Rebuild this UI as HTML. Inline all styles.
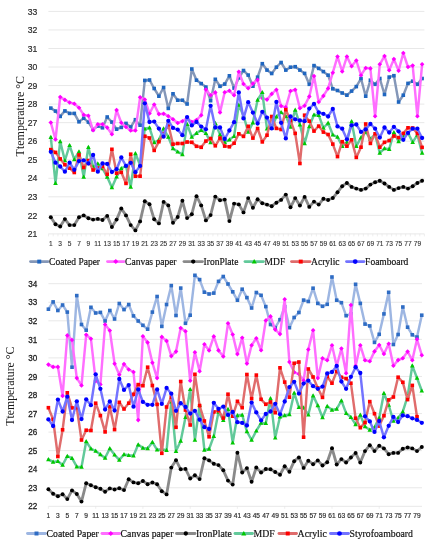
<!DOCTYPE html>
<html><head><meta charset="utf-8"><title>Temperature charts</title>
<style>html,body{margin:0;padding:0;background:#fff;overflow:hidden;} svg{display:block;}</style></head>
<body><svg width="433" height="550" viewBox="0 0 433 550">
<rect width="433" height="550" fill="#fff"/>
<text transform="translate(20.3,116.2) rotate(-90)" text-anchor="middle" dominant-baseline="central" font-family="Liberation Serif, serif" font-size="12" fill="#1A1A1A">Ttemperature °C</text><text transform="translate(10.2,386.2) rotate(-90)" text-anchor="middle" dominant-baseline="central" font-family="Liberation Serif, serif" font-size="11.8" fill="#1A1A1A">Ttemperature °C</text>
<line x1="48.4" y1="215.36" x2="424.4" y2="215.36" stroke="#E8E8E8" stroke-width="1"/>
<line x1="48.4" y1="196.82" x2="424.4" y2="196.82" stroke="#E8E8E8" stroke-width="1"/>
<line x1="48.4" y1="178.28" x2="424.4" y2="178.28" stroke="#E8E8E8" stroke-width="1"/>
<line x1="48.4" y1="159.74" x2="424.4" y2="159.74" stroke="#E8E8E8" stroke-width="1"/>
<line x1="48.4" y1="141.20" x2="424.4" y2="141.20" stroke="#E8E8E8" stroke-width="1"/>
<line x1="48.4" y1="122.66" x2="424.4" y2="122.66" stroke="#E8E8E8" stroke-width="1"/>
<line x1="48.4" y1="104.12" x2="424.4" y2="104.12" stroke="#E8E8E8" stroke-width="1"/>
<line x1="48.4" y1="85.58" x2="424.4" y2="85.58" stroke="#E8E8E8" stroke-width="1"/>
<line x1="48.4" y1="67.04" x2="424.4" y2="67.04" stroke="#E8E8E8" stroke-width="1"/>
<line x1="48.4" y1="48.50" x2="424.4" y2="48.50" stroke="#E8E8E8" stroke-width="1"/>
<line x1="48.4" y1="29.96" x2="424.4" y2="29.96" stroke="#E8E8E8" stroke-width="1"/>
<line x1="48.4" y1="11.42" x2="424.4" y2="11.42" stroke="#E8E8E8" stroke-width="1"/>
<line x1="48.4" y1="233.90" x2="424.4" y2="233.90" stroke="#E8E8E8" stroke-width="1"/>
<line x1="48.5" y1="233.9" x2="48.5" y2="236.4" stroke="#E6E6E6" stroke-width="0.7"/>
<line x1="53.2" y1="233.9" x2="53.2" y2="236.4" stroke="#E6E6E6" stroke-width="0.7"/>
<line x1="57.9" y1="233.9" x2="57.9" y2="236.4" stroke="#E6E6E6" stroke-width="0.7"/>
<line x1="62.6" y1="233.9" x2="62.6" y2="236.4" stroke="#E6E6E6" stroke-width="0.7"/>
<line x1="67.2" y1="233.9" x2="67.2" y2="236.4" stroke="#E6E6E6" stroke-width="0.7"/>
<line x1="72.0" y1="233.9" x2="72.0" y2="236.4" stroke="#E6E6E6" stroke-width="0.7"/>
<line x1="76.7" y1="233.9" x2="76.7" y2="236.4" stroke="#E6E6E6" stroke-width="0.7"/>
<line x1="81.3" y1="233.9" x2="81.3" y2="236.4" stroke="#E6E6E6" stroke-width="0.7"/>
<line x1="86.1" y1="233.9" x2="86.1" y2="236.4" stroke="#E6E6E6" stroke-width="0.7"/>
<line x1="90.8" y1="233.9" x2="90.8" y2="236.4" stroke="#E6E6E6" stroke-width="0.7"/>
<line x1="95.5" y1="233.9" x2="95.5" y2="236.4" stroke="#E6E6E6" stroke-width="0.7"/>
<line x1="100.2" y1="233.9" x2="100.2" y2="236.4" stroke="#E6E6E6" stroke-width="0.7"/>
<line x1="104.9" y1="233.9" x2="104.9" y2="236.4" stroke="#E6E6E6" stroke-width="0.7"/>
<line x1="109.6" y1="233.9" x2="109.6" y2="236.4" stroke="#E6E6E6" stroke-width="0.7"/>
<line x1="114.2" y1="233.9" x2="114.2" y2="236.4" stroke="#E6E6E6" stroke-width="0.7"/>
<line x1="119.0" y1="233.9" x2="119.0" y2="236.4" stroke="#E6E6E6" stroke-width="0.7"/>
<line x1="123.7" y1="233.9" x2="123.7" y2="236.4" stroke="#E6E6E6" stroke-width="0.7"/>
<line x1="128.4" y1="233.9" x2="128.4" y2="236.4" stroke="#E6E6E6" stroke-width="0.7"/>
<line x1="133.1" y1="233.9" x2="133.1" y2="236.4" stroke="#E6E6E6" stroke-width="0.7"/>
<line x1="137.8" y1="233.9" x2="137.8" y2="236.4" stroke="#E6E6E6" stroke-width="0.7"/>
<line x1="142.4" y1="233.9" x2="142.4" y2="236.4" stroke="#E6E6E6" stroke-width="0.7"/>
<line x1="147.2" y1="233.9" x2="147.2" y2="236.4" stroke="#E6E6E6" stroke-width="0.7"/>
<line x1="151.9" y1="233.9" x2="151.9" y2="236.4" stroke="#E6E6E6" stroke-width="0.7"/>
<line x1="156.6" y1="233.9" x2="156.6" y2="236.4" stroke="#E6E6E6" stroke-width="0.7"/>
<line x1="161.2" y1="233.9" x2="161.2" y2="236.4" stroke="#E6E6E6" stroke-width="0.7"/>
<line x1="165.9" y1="233.9" x2="165.9" y2="236.4" stroke="#E6E6E6" stroke-width="0.7"/>
<line x1="170.7" y1="233.9" x2="170.7" y2="236.4" stroke="#E6E6E6" stroke-width="0.7"/>
<line x1="175.4" y1="233.9" x2="175.4" y2="236.4" stroke="#E6E6E6" stroke-width="0.7"/>
<line x1="180.1" y1="233.9" x2="180.1" y2="236.4" stroke="#E6E6E6" stroke-width="0.7"/>
<line x1="184.8" y1="233.9" x2="184.8" y2="236.4" stroke="#E6E6E6" stroke-width="0.7"/>
<line x1="189.4" y1="233.9" x2="189.4" y2="236.4" stroke="#E6E6E6" stroke-width="0.7"/>
<line x1="194.2" y1="233.9" x2="194.2" y2="236.4" stroke="#E6E6E6" stroke-width="0.7"/>
<line x1="198.9" y1="233.9" x2="198.9" y2="236.4" stroke="#E6E6E6" stroke-width="0.7"/>
<line x1="203.6" y1="233.9" x2="203.6" y2="236.4" stroke="#E6E6E6" stroke-width="0.7"/>
<line x1="208.2" y1="233.9" x2="208.2" y2="236.4" stroke="#E6E6E6" stroke-width="0.7"/>
<line x1="212.9" y1="233.9" x2="212.9" y2="236.4" stroke="#E6E6E6" stroke-width="0.7"/>
<line x1="217.7" y1="233.9" x2="217.7" y2="236.4" stroke="#E6E6E6" stroke-width="0.7"/>
<line x1="222.4" y1="233.9" x2="222.4" y2="236.4" stroke="#E6E6E6" stroke-width="0.7"/>
<line x1="227.1" y1="233.9" x2="227.1" y2="236.4" stroke="#E6E6E6" stroke-width="0.7"/>
<line x1="231.8" y1="233.9" x2="231.8" y2="236.4" stroke="#E6E6E6" stroke-width="0.7"/>
<line x1="236.4" y1="233.9" x2="236.4" y2="236.4" stroke="#E6E6E6" stroke-width="0.7"/>
<line x1="241.2" y1="233.9" x2="241.2" y2="236.4" stroke="#E6E6E6" stroke-width="0.7"/>
<line x1="245.9" y1="233.9" x2="245.9" y2="236.4" stroke="#E6E6E6" stroke-width="0.7"/>
<line x1="250.6" y1="233.9" x2="250.6" y2="236.4" stroke="#E6E6E6" stroke-width="0.7"/>
<line x1="255.2" y1="233.9" x2="255.2" y2="236.4" stroke="#E6E6E6" stroke-width="0.7"/>
<line x1="259.9" y1="233.9" x2="259.9" y2="236.4" stroke="#E6E6E6" stroke-width="0.7"/>
<line x1="264.7" y1="233.9" x2="264.7" y2="236.4" stroke="#E6E6E6" stroke-width="0.7"/>
<line x1="269.4" y1="233.9" x2="269.4" y2="236.4" stroke="#E6E6E6" stroke-width="0.7"/>
<line x1="274.1" y1="233.9" x2="274.1" y2="236.4" stroke="#E6E6E6" stroke-width="0.7"/>
<line x1="278.8" y1="233.9" x2="278.8" y2="236.4" stroke="#E6E6E6" stroke-width="0.7"/>
<line x1="283.4" y1="233.9" x2="283.4" y2="236.4" stroke="#E6E6E6" stroke-width="0.7"/>
<line x1="288.2" y1="233.9" x2="288.2" y2="236.4" stroke="#E6E6E6" stroke-width="0.7"/>
<line x1="292.9" y1="233.9" x2="292.9" y2="236.4" stroke="#E6E6E6" stroke-width="0.7"/>
<line x1="297.6" y1="233.9" x2="297.6" y2="236.4" stroke="#E6E6E6" stroke-width="0.7"/>
<line x1="302.2" y1="233.9" x2="302.2" y2="236.4" stroke="#E6E6E6" stroke-width="0.7"/>
<line x1="306.9" y1="233.9" x2="306.9" y2="236.4" stroke="#E6E6E6" stroke-width="0.7"/>
<line x1="311.6" y1="233.9" x2="311.6" y2="236.4" stroke="#E6E6E6" stroke-width="0.7"/>
<line x1="316.4" y1="233.9" x2="316.4" y2="236.4" stroke="#E6E6E6" stroke-width="0.7"/>
<line x1="321.1" y1="233.9" x2="321.1" y2="236.4" stroke="#E6E6E6" stroke-width="0.7"/>
<line x1="325.8" y1="233.9" x2="325.8" y2="236.4" stroke="#E6E6E6" stroke-width="0.7"/>
<line x1="330.4" y1="233.9" x2="330.4" y2="236.4" stroke="#E6E6E6" stroke-width="0.7"/>
<line x1="335.1" y1="233.9" x2="335.1" y2="236.4" stroke="#E6E6E6" stroke-width="0.7"/>
<line x1="339.9" y1="233.9" x2="339.9" y2="236.4" stroke="#E6E6E6" stroke-width="0.7"/>
<line x1="344.6" y1="233.9" x2="344.6" y2="236.4" stroke="#E6E6E6" stroke-width="0.7"/>
<line x1="349.2" y1="233.9" x2="349.2" y2="236.4" stroke="#E6E6E6" stroke-width="0.7"/>
<line x1="353.9" y1="233.9" x2="353.9" y2="236.4" stroke="#E6E6E6" stroke-width="0.7"/>
<line x1="358.6" y1="233.9" x2="358.6" y2="236.4" stroke="#E6E6E6" stroke-width="0.7"/>
<line x1="363.4" y1="233.9" x2="363.4" y2="236.4" stroke="#E6E6E6" stroke-width="0.7"/>
<line x1="368.1" y1="233.9" x2="368.1" y2="236.4" stroke="#E6E6E6" stroke-width="0.7"/>
<line x1="372.8" y1="233.9" x2="372.8" y2="236.4" stroke="#E6E6E6" stroke-width="0.7"/>
<line x1="377.4" y1="233.9" x2="377.4" y2="236.4" stroke="#E6E6E6" stroke-width="0.7"/>
<line x1="382.1" y1="233.9" x2="382.1" y2="236.4" stroke="#E6E6E6" stroke-width="0.7"/>
<line x1="386.9" y1="233.9" x2="386.9" y2="236.4" stroke="#E6E6E6" stroke-width="0.7"/>
<line x1="391.6" y1="233.9" x2="391.6" y2="236.4" stroke="#E6E6E6" stroke-width="0.7"/>
<line x1="396.2" y1="233.9" x2="396.2" y2="236.4" stroke="#E6E6E6" stroke-width="0.7"/>
<line x1="400.9" y1="233.9" x2="400.9" y2="236.4" stroke="#E6E6E6" stroke-width="0.7"/>
<line x1="405.6" y1="233.9" x2="405.6" y2="236.4" stroke="#E6E6E6" stroke-width="0.7"/>
<line x1="410.4" y1="233.9" x2="410.4" y2="236.4" stroke="#E6E6E6" stroke-width="0.7"/>
<line x1="415.1" y1="233.9" x2="415.1" y2="236.4" stroke="#E6E6E6" stroke-width="0.7"/>
<line x1="419.8" y1="233.9" x2="419.8" y2="236.4" stroke="#E6E6E6" stroke-width="0.7"/>
<line x1="424.4" y1="233.9" x2="424.4" y2="236.4" stroke="#E6E6E6" stroke-width="0.7"/>
<text transform="translate(37.4,233.90) scale(0.9,1)" text-anchor="end" dominant-baseline="central" font-family="Liberation Sans, sans-serif" font-size="9.6" font-weight="normal" fill="#2A2A2A" stroke="#2A2A2A" stroke-width="0.2">21</text>
<text transform="translate(37.4,215.36) scale(0.9,1)" text-anchor="end" dominant-baseline="central" font-family="Liberation Sans, sans-serif" font-size="9.6" font-weight="normal" fill="#2A2A2A" stroke="#2A2A2A" stroke-width="0.2">22</text>
<text transform="translate(37.4,196.82) scale(0.9,1)" text-anchor="end" dominant-baseline="central" font-family="Liberation Sans, sans-serif" font-size="9.6" font-weight="normal" fill="#2A2A2A" stroke="#2A2A2A" stroke-width="0.2">23</text>
<text transform="translate(37.4,178.28) scale(0.9,1)" text-anchor="end" dominant-baseline="central" font-family="Liberation Sans, sans-serif" font-size="9.6" font-weight="normal" fill="#2A2A2A" stroke="#2A2A2A" stroke-width="0.2">24</text>
<text transform="translate(37.4,159.74) scale(0.9,1)" text-anchor="end" dominant-baseline="central" font-family="Liberation Sans, sans-serif" font-size="9.6" font-weight="normal" fill="#2A2A2A" stroke="#2A2A2A" stroke-width="0.2">25</text>
<text transform="translate(37.4,141.20) scale(0.9,1)" text-anchor="end" dominant-baseline="central" font-family="Liberation Sans, sans-serif" font-size="9.6" font-weight="normal" fill="#2A2A2A" stroke="#2A2A2A" stroke-width="0.2">26</text>
<text transform="translate(37.4,122.66) scale(0.9,1)" text-anchor="end" dominant-baseline="central" font-family="Liberation Sans, sans-serif" font-size="9.6" font-weight="normal" fill="#2A2A2A" stroke="#2A2A2A" stroke-width="0.2">27</text>
<text transform="translate(37.4,104.12) scale(0.9,1)" text-anchor="end" dominant-baseline="central" font-family="Liberation Sans, sans-serif" font-size="9.6" font-weight="normal" fill="#2A2A2A" stroke="#2A2A2A" stroke-width="0.2">28</text>
<text transform="translate(37.4,85.58) scale(0.9,1)" text-anchor="end" dominant-baseline="central" font-family="Liberation Sans, sans-serif" font-size="9.6" font-weight="normal" fill="#2A2A2A" stroke="#2A2A2A" stroke-width="0.2">29</text>
<text transform="translate(37.4,67.04) scale(0.9,1)" text-anchor="end" dominant-baseline="central" font-family="Liberation Sans, sans-serif" font-size="9.6" font-weight="normal" fill="#2A2A2A" stroke="#2A2A2A" stroke-width="0.2">30</text>
<text transform="translate(37.4,48.50) scale(0.9,1)" text-anchor="end" dominant-baseline="central" font-family="Liberation Sans, sans-serif" font-size="9.6" font-weight="normal" fill="#2A2A2A" stroke="#2A2A2A" stroke-width="0.2">31</text>
<text transform="translate(37.4,29.96) scale(0.9,1)" text-anchor="end" dominant-baseline="central" font-family="Liberation Sans, sans-serif" font-size="9.6" font-weight="normal" fill="#2A2A2A" stroke="#2A2A2A" stroke-width="0.2">32</text>
<text transform="translate(37.4,11.42) scale(0.9,1)" text-anchor="end" dominant-baseline="central" font-family="Liberation Sans, sans-serif" font-size="9.6" font-weight="normal" fill="#2A2A2A" stroke="#2A2A2A" stroke-width="0.2">33</text>
<text x="50.8" y="243.6" text-anchor="middle" dominant-baseline="central" font-family="Liberation Sans, sans-serif" font-size="6.6" font-weight="normal" fill="#333333" stroke="#333333" stroke-width="0.12">1</text>
<text x="60.2" y="243.6" text-anchor="middle" dominant-baseline="central" font-family="Liberation Sans, sans-serif" font-size="6.6" font-weight="normal" fill="#333333" stroke="#333333" stroke-width="0.12">3</text>
<text x="69.6" y="243.6" text-anchor="middle" dominant-baseline="central" font-family="Liberation Sans, sans-serif" font-size="6.6" font-weight="normal" fill="#333333" stroke="#333333" stroke-width="0.12">5</text>
<text x="79.0" y="243.6" text-anchor="middle" dominant-baseline="central" font-family="Liberation Sans, sans-serif" font-size="6.6" font-weight="normal" fill="#333333" stroke="#333333" stroke-width="0.12">7</text>
<text x="88.4" y="243.6" text-anchor="middle" dominant-baseline="central" font-family="Liberation Sans, sans-serif" font-size="6.6" font-weight="normal" fill="#333333" stroke="#333333" stroke-width="0.12">9</text>
<text x="97.8" y="243.6" text-anchor="middle" dominant-baseline="central" font-family="Liberation Sans, sans-serif" font-size="6.6" font-weight="normal" fill="#333333" stroke="#333333" stroke-width="0.12">11</text>
<text x="107.2" y="243.6" text-anchor="middle" dominant-baseline="central" font-family="Liberation Sans, sans-serif" font-size="6.6" font-weight="normal" fill="#333333" stroke="#333333" stroke-width="0.12">13</text>
<text x="116.6" y="243.6" text-anchor="middle" dominant-baseline="central" font-family="Liberation Sans, sans-serif" font-size="6.6" font-weight="normal" fill="#333333" stroke="#333333" stroke-width="0.12">15</text>
<text x="126.0" y="243.6" text-anchor="middle" dominant-baseline="central" font-family="Liberation Sans, sans-serif" font-size="6.6" font-weight="normal" fill="#333333" stroke="#333333" stroke-width="0.12">17</text>
<text x="135.4" y="243.6" text-anchor="middle" dominant-baseline="central" font-family="Liberation Sans, sans-serif" font-size="6.6" font-weight="normal" fill="#333333" stroke="#333333" stroke-width="0.12">19</text>
<text x="144.8" y="243.6" text-anchor="middle" dominant-baseline="central" font-family="Liberation Sans, sans-serif" font-size="6.6" font-weight="normal" fill="#333333" stroke="#333333" stroke-width="0.12">21</text>
<text x="154.2" y="243.6" text-anchor="middle" dominant-baseline="central" font-family="Liberation Sans, sans-serif" font-size="6.6" font-weight="normal" fill="#333333" stroke="#333333" stroke-width="0.12">23</text>
<text x="163.6" y="243.6" text-anchor="middle" dominant-baseline="central" font-family="Liberation Sans, sans-serif" font-size="6.6" font-weight="normal" fill="#333333" stroke="#333333" stroke-width="0.12">25</text>
<text x="173.0" y="243.6" text-anchor="middle" dominant-baseline="central" font-family="Liberation Sans, sans-serif" font-size="6.6" font-weight="normal" fill="#333333" stroke="#333333" stroke-width="0.12">27</text>
<text x="182.4" y="243.6" text-anchor="middle" dominant-baseline="central" font-family="Liberation Sans, sans-serif" font-size="6.6" font-weight="normal" fill="#333333" stroke="#333333" stroke-width="0.12">29</text>
<text x="191.8" y="243.6" text-anchor="middle" dominant-baseline="central" font-family="Liberation Sans, sans-serif" font-size="6.6" font-weight="normal" fill="#333333" stroke="#333333" stroke-width="0.12">31</text>
<text x="201.2" y="243.6" text-anchor="middle" dominant-baseline="central" font-family="Liberation Sans, sans-serif" font-size="6.6" font-weight="normal" fill="#333333" stroke="#333333" stroke-width="0.12">33</text>
<text x="210.6" y="243.6" text-anchor="middle" dominant-baseline="central" font-family="Liberation Sans, sans-serif" font-size="6.6" font-weight="normal" fill="#333333" stroke="#333333" stroke-width="0.12">35</text>
<text x="220.0" y="243.6" text-anchor="middle" dominant-baseline="central" font-family="Liberation Sans, sans-serif" font-size="6.6" font-weight="normal" fill="#333333" stroke="#333333" stroke-width="0.12">37</text>
<text x="229.4" y="243.6" text-anchor="middle" dominant-baseline="central" font-family="Liberation Sans, sans-serif" font-size="6.6" font-weight="normal" fill="#333333" stroke="#333333" stroke-width="0.12">39</text>
<text x="238.8" y="243.6" text-anchor="middle" dominant-baseline="central" font-family="Liberation Sans, sans-serif" font-size="6.6" font-weight="normal" fill="#333333" stroke="#333333" stroke-width="0.12">41</text>
<text x="248.2" y="243.6" text-anchor="middle" dominant-baseline="central" font-family="Liberation Sans, sans-serif" font-size="6.6" font-weight="normal" fill="#333333" stroke="#333333" stroke-width="0.12">43</text>
<text x="257.6" y="243.6" text-anchor="middle" dominant-baseline="central" font-family="Liberation Sans, sans-serif" font-size="6.6" font-weight="normal" fill="#333333" stroke="#333333" stroke-width="0.12">45</text>
<text x="267.0" y="243.6" text-anchor="middle" dominant-baseline="central" font-family="Liberation Sans, sans-serif" font-size="6.6" font-weight="normal" fill="#333333" stroke="#333333" stroke-width="0.12">47</text>
<text x="276.4" y="243.6" text-anchor="middle" dominant-baseline="central" font-family="Liberation Sans, sans-serif" font-size="6.6" font-weight="normal" fill="#333333" stroke="#333333" stroke-width="0.12">49</text>
<text x="285.8" y="243.6" text-anchor="middle" dominant-baseline="central" font-family="Liberation Sans, sans-serif" font-size="6.6" font-weight="normal" fill="#333333" stroke="#333333" stroke-width="0.12">51</text>
<text x="295.2" y="243.6" text-anchor="middle" dominant-baseline="central" font-family="Liberation Sans, sans-serif" font-size="6.6" font-weight="normal" fill="#333333" stroke="#333333" stroke-width="0.12">53</text>
<text x="304.6" y="243.6" text-anchor="middle" dominant-baseline="central" font-family="Liberation Sans, sans-serif" font-size="6.6" font-weight="normal" fill="#333333" stroke="#333333" stroke-width="0.12">55</text>
<text x="314.0" y="243.6" text-anchor="middle" dominant-baseline="central" font-family="Liberation Sans, sans-serif" font-size="6.6" font-weight="normal" fill="#333333" stroke="#333333" stroke-width="0.12">57</text>
<text x="323.4" y="243.6" text-anchor="middle" dominant-baseline="central" font-family="Liberation Sans, sans-serif" font-size="6.6" font-weight="normal" fill="#333333" stroke="#333333" stroke-width="0.12">59</text>
<text x="332.8" y="243.6" text-anchor="middle" dominant-baseline="central" font-family="Liberation Sans, sans-serif" font-size="6.6" font-weight="normal" fill="#333333" stroke="#333333" stroke-width="0.12">61</text>
<text x="342.2" y="243.6" text-anchor="middle" dominant-baseline="central" font-family="Liberation Sans, sans-serif" font-size="6.6" font-weight="normal" fill="#333333" stroke="#333333" stroke-width="0.12">63</text>
<text x="351.6" y="243.6" text-anchor="middle" dominant-baseline="central" font-family="Liberation Sans, sans-serif" font-size="6.6" font-weight="normal" fill="#333333" stroke="#333333" stroke-width="0.12">65</text>
<text x="361.0" y="243.6" text-anchor="middle" dominant-baseline="central" font-family="Liberation Sans, sans-serif" font-size="6.6" font-weight="normal" fill="#333333" stroke="#333333" stroke-width="0.12">67</text>
<text x="370.4" y="243.6" text-anchor="middle" dominant-baseline="central" font-family="Liberation Sans, sans-serif" font-size="6.6" font-weight="normal" fill="#333333" stroke="#333333" stroke-width="0.12">69</text>
<text x="379.8" y="243.6" text-anchor="middle" dominant-baseline="central" font-family="Liberation Sans, sans-serif" font-size="6.6" font-weight="normal" fill="#333333" stroke="#333333" stroke-width="0.12">71</text>
<text x="389.2" y="243.6" text-anchor="middle" dominant-baseline="central" font-family="Liberation Sans, sans-serif" font-size="6.6" font-weight="normal" fill="#333333" stroke="#333333" stroke-width="0.12">73</text>
<text x="398.6" y="243.6" text-anchor="middle" dominant-baseline="central" font-family="Liberation Sans, sans-serif" font-size="6.6" font-weight="normal" fill="#333333" stroke="#333333" stroke-width="0.12">75</text>
<text x="408.0" y="243.6" text-anchor="middle" dominant-baseline="central" font-family="Liberation Sans, sans-serif" font-size="6.6" font-weight="normal" fill="#333333" stroke="#333333" stroke-width="0.12">77</text>
<text x="417.4" y="243.6" text-anchor="middle" dominant-baseline="central" font-family="Liberation Sans, sans-serif" font-size="6.6" font-weight="normal" fill="#333333" stroke="#333333" stroke-width="0.12">79</text>
<polyline points="50.8,108.1 55.5,111.1 60.2,116.4 64.9,110.9 69.6,113.4 74.3,113.4 79.0,121.8 83.7,118.2 88.4,122.1 93.1,129.5 97.8,126.0 102.5,127.8 107.2,117.0 111.9,122.1 116.6,129.2 121.3,127.4 126.0,123.4 130.7,127.0 135.4,119.7 140.1,125.2 144.8,80.4 149.5,80.0 154.2,88.5 158.9,96.2 163.6,87.5 168.3,108.4 173.0,93.8 177.7,100.2 182.4,100.2 187.1,104.0 191.8,69.0 196.5,80.2 201.2,83.6 205.9,87.1 210.6,100.7 215.3,79.3 220.0,86.3 224.7,84.1 229.4,75.8 234.1,88.1 238.8,77.9 243.5,70.5 248.2,75.1 252.9,86.2 257.6,77.2 262.3,63.7 267.0,70.1 271.7,73.5 276.4,67.2 281.1,62.5 285.8,70.1 290.5,67.2 295.2,66.7 299.9,70.1 304.6,73.4 309.3,84.3 314.0,65.6 318.7,68.4 323.4,71.6 328.1,75.2 332.8,88.8 337.5,90.5 342.2,93.0 346.9,95.2 351.6,91.1 356.3,86.6 361.0,78.5 365.7,96.2 370.4,80.2 375.1,84.3 379.8,78.5 384.5,94.5 389.2,77.1 393.9,75.7 398.6,102.0 403.3,95.2 408.0,83.4 412.7,81.2 417.4,84.3 422.1,78.5" fill="none" stroke="#8497B8" stroke-width="2.45" stroke-linejoin="round" stroke-linecap="round"/>
<rect x="49.00" y="106.30" width="3.60" height="3.60" fill="#1F66C0"/>
<rect x="53.70" y="109.30" width="3.60" height="3.60" fill="#1F66C0"/>
<rect x="58.40" y="114.60" width="3.60" height="3.60" fill="#1F66C0"/>
<rect x="63.10" y="109.10" width="3.60" height="3.60" fill="#1F66C0"/>
<rect x="67.80" y="111.60" width="3.60" height="3.60" fill="#1F66C0"/>
<rect x="72.50" y="111.60" width="3.60" height="3.60" fill="#1F66C0"/>
<rect x="77.20" y="120.00" width="3.60" height="3.60" fill="#1F66C0"/>
<rect x="81.90" y="116.40" width="3.60" height="3.60" fill="#1F66C0"/>
<rect x="86.60" y="120.30" width="3.60" height="3.60" fill="#1F66C0"/>
<rect x="91.30" y="127.70" width="3.60" height="3.60" fill="#1F66C0"/>
<rect x="96.00" y="124.20" width="3.60" height="3.60" fill="#1F66C0"/>
<rect x="100.70" y="126.00" width="3.60" height="3.60" fill="#1F66C0"/>
<rect x="105.40" y="115.20" width="3.60" height="3.60" fill="#1F66C0"/>
<rect x="110.10" y="120.30" width="3.60" height="3.60" fill="#1F66C0"/>
<rect x="114.80" y="127.40" width="3.60" height="3.60" fill="#1F66C0"/>
<rect x="119.50" y="125.60" width="3.60" height="3.60" fill="#1F66C0"/>
<rect x="124.20" y="121.60" width="3.60" height="3.60" fill="#1F66C0"/>
<rect x="128.90" y="125.20" width="3.60" height="3.60" fill="#1F66C0"/>
<rect x="133.60" y="117.90" width="3.60" height="3.60" fill="#1F66C0"/>
<rect x="138.30" y="123.40" width="3.60" height="3.60" fill="#1F66C0"/>
<rect x="143.00" y="78.60" width="3.60" height="3.60" fill="#1F66C0"/>
<rect x="147.70" y="78.20" width="3.60" height="3.60" fill="#1F66C0"/>
<rect x="152.40" y="86.70" width="3.60" height="3.60" fill="#1F66C0"/>
<rect x="157.10" y="94.40" width="3.60" height="3.60" fill="#1F66C0"/>
<rect x="161.80" y="85.70" width="3.60" height="3.60" fill="#1F66C0"/>
<rect x="166.50" y="106.60" width="3.60" height="3.60" fill="#1F66C0"/>
<rect x="171.20" y="92.00" width="3.60" height="3.60" fill="#1F66C0"/>
<rect x="175.90" y="98.40" width="3.60" height="3.60" fill="#1F66C0"/>
<rect x="180.60" y="98.40" width="3.60" height="3.60" fill="#1F66C0"/>
<rect x="185.30" y="102.20" width="3.60" height="3.60" fill="#1F66C0"/>
<rect x="190.00" y="67.20" width="3.60" height="3.60" fill="#1F66C0"/>
<rect x="194.70" y="78.40" width="3.60" height="3.60" fill="#1F66C0"/>
<rect x="199.40" y="81.80" width="3.60" height="3.60" fill="#1F66C0"/>
<rect x="204.10" y="85.30" width="3.60" height="3.60" fill="#1F66C0"/>
<rect x="208.80" y="98.90" width="3.60" height="3.60" fill="#1F66C0"/>
<rect x="213.50" y="77.50" width="3.60" height="3.60" fill="#1F66C0"/>
<rect x="218.20" y="84.50" width="3.60" height="3.60" fill="#1F66C0"/>
<rect x="222.90" y="82.30" width="3.60" height="3.60" fill="#1F66C0"/>
<rect x="227.60" y="74.00" width="3.60" height="3.60" fill="#1F66C0"/>
<rect x="232.30" y="86.30" width="3.60" height="3.60" fill="#1F66C0"/>
<rect x="237.00" y="76.10" width="3.60" height="3.60" fill="#1F66C0"/>
<rect x="241.70" y="68.70" width="3.60" height="3.60" fill="#1F66C0"/>
<rect x="246.40" y="73.30" width="3.60" height="3.60" fill="#1F66C0"/>
<rect x="251.10" y="84.40" width="3.60" height="3.60" fill="#1F66C0"/>
<rect x="255.80" y="75.40" width="3.60" height="3.60" fill="#1F66C0"/>
<rect x="260.50" y="61.90" width="3.60" height="3.60" fill="#1F66C0"/>
<rect x="265.20" y="68.30" width="3.60" height="3.60" fill="#1F66C0"/>
<rect x="269.90" y="71.70" width="3.60" height="3.60" fill="#1F66C0"/>
<rect x="274.60" y="65.40" width="3.60" height="3.60" fill="#1F66C0"/>
<rect x="279.30" y="60.70" width="3.60" height="3.60" fill="#1F66C0"/>
<rect x="284.00" y="68.30" width="3.60" height="3.60" fill="#1F66C0"/>
<rect x="288.70" y="65.40" width="3.60" height="3.60" fill="#1F66C0"/>
<rect x="293.40" y="64.90" width="3.60" height="3.60" fill="#1F66C0"/>
<rect x="298.10" y="68.30" width="3.60" height="3.60" fill="#1F66C0"/>
<rect x="302.80" y="71.60" width="3.60" height="3.60" fill="#1F66C0"/>
<rect x="307.50" y="82.50" width="3.60" height="3.60" fill="#1F66C0"/>
<rect x="312.20" y="63.80" width="3.60" height="3.60" fill="#1F66C0"/>
<rect x="316.90" y="66.60" width="3.60" height="3.60" fill="#1F66C0"/>
<rect x="321.60" y="69.80" width="3.60" height="3.60" fill="#1F66C0"/>
<rect x="326.30" y="73.40" width="3.60" height="3.60" fill="#1F66C0"/>
<rect x="331.00" y="87.00" width="3.60" height="3.60" fill="#1F66C0"/>
<rect x="335.70" y="88.70" width="3.60" height="3.60" fill="#1F66C0"/>
<rect x="340.40" y="91.20" width="3.60" height="3.60" fill="#1F66C0"/>
<rect x="345.10" y="93.40" width="3.60" height="3.60" fill="#1F66C0"/>
<rect x="349.80" y="89.30" width="3.60" height="3.60" fill="#1F66C0"/>
<rect x="354.50" y="84.80" width="3.60" height="3.60" fill="#1F66C0"/>
<rect x="359.20" y="76.70" width="3.60" height="3.60" fill="#1F66C0"/>
<rect x="363.90" y="94.40" width="3.60" height="3.60" fill="#1F66C0"/>
<rect x="368.60" y="78.40" width="3.60" height="3.60" fill="#1F66C0"/>
<rect x="373.30" y="82.50" width="3.60" height="3.60" fill="#1F66C0"/>
<rect x="378.00" y="76.70" width="3.60" height="3.60" fill="#1F66C0"/>
<rect x="382.70" y="92.70" width="3.60" height="3.60" fill="#1F66C0"/>
<rect x="387.40" y="75.30" width="3.60" height="3.60" fill="#1F66C0"/>
<rect x="392.10" y="73.90" width="3.60" height="3.60" fill="#1F66C0"/>
<rect x="396.80" y="100.20" width="3.60" height="3.60" fill="#1F66C0"/>
<rect x="401.50" y="93.40" width="3.60" height="3.60" fill="#1F66C0"/>
<rect x="406.20" y="81.60" width="3.60" height="3.60" fill="#1F66C0"/>
<rect x="410.90" y="79.40" width="3.60" height="3.60" fill="#1F66C0"/>
<rect x="415.60" y="82.50" width="3.60" height="3.60" fill="#1F66C0"/>
<rect x="420.30" y="76.70" width="3.60" height="3.60" fill="#1F66C0"/>
<polyline points="50.8,122.5 55.5,139.5 60.2,97.0 64.9,99.9 69.6,102.5 74.3,103.8 79.0,107.7 83.7,114.9 88.4,115.7 93.1,130.3 97.8,124.2 102.5,124.2 107.2,127.6 111.9,134.2 116.6,110.1 121.3,122.8 126.0,127.0 130.7,130.5 135.4,130.5 140.1,97.3 144.8,99.5 149.5,113.5 154.2,104.5 158.9,114.1 163.6,113.7 168.3,116.2 173.0,119.3 177.7,123.0 182.4,121.2 187.1,118.0 191.8,122.0 196.5,120.0 201.2,115.3 205.9,89.6 210.6,95.2 215.3,92.4 220.0,112.4 224.7,92.3 229.4,90.8 234.1,95.3 238.8,71.7 243.5,84.0 248.2,88.3 252.9,83.6 257.6,79.9 262.3,98.1 267.0,99.6 271.7,93.9 276.4,89.7 281.1,106.0 285.8,107.3 290.5,91.0 295.2,89.7 299.9,108.2 304.6,105.7 309.3,96.6 314.0,76.1 318.7,102.0 323.4,95.9 328.1,88.4 332.8,72.7 337.5,56.6 342.2,71.5 346.9,56.6 351.6,66.2 356.3,60.5 361.0,75.2 365.7,68.0 370.4,68.4 375.1,116.3 379.8,64.3 384.5,56.1 389.2,70.3 393.9,59.1 398.6,70.7 403.3,53.0 408.0,67.0 412.7,65.6 417.4,116.3 422.1,64.3" fill="none" stroke="#FF6EFF" stroke-width="2.45" stroke-linejoin="round" stroke-linecap="round"/>
<path d="M50.8 120.2L53.1 122.5L50.8 124.8L48.5 122.5Z" fill="#FF00FF"/>
<path d="M55.5 137.2L57.8 139.5L55.5 141.8L53.2 139.5Z" fill="#FF00FF"/>
<path d="M60.2 94.7L62.5 97.0L60.2 99.3L57.9 97.0Z" fill="#FF00FF"/>
<path d="M64.9 97.6L67.2 99.9L64.9 102.2L62.6 99.9Z" fill="#FF00FF"/>
<path d="M69.6 100.2L71.9 102.5L69.6 104.8L67.3 102.5Z" fill="#FF00FF"/>
<path d="M74.3 101.5L76.6 103.8L74.3 106.1L72.0 103.8Z" fill="#FF00FF"/>
<path d="M79.0 105.4L81.3 107.7L79.0 110.0L76.7 107.7Z" fill="#FF00FF"/>
<path d="M83.7 112.6L86.0 114.9L83.7 117.2L81.4 114.9Z" fill="#FF00FF"/>
<path d="M88.4 113.4L90.7 115.7L88.4 118.0L86.1 115.7Z" fill="#FF00FF"/>
<path d="M93.1 128.0L95.4 130.3L93.1 132.6L90.8 130.3Z" fill="#FF00FF"/>
<path d="M97.8 121.9L100.1 124.2L97.8 126.5L95.5 124.2Z" fill="#FF00FF"/>
<path d="M102.5 121.9L104.8 124.2L102.5 126.5L100.2 124.2Z" fill="#FF00FF"/>
<path d="M107.2 125.3L109.5 127.6L107.2 129.9L104.9 127.6Z" fill="#FF00FF"/>
<path d="M111.9 131.9L114.2 134.2L111.9 136.5L109.6 134.2Z" fill="#FF00FF"/>
<path d="M116.6 107.8L118.9 110.1L116.6 112.4L114.3 110.1Z" fill="#FF00FF"/>
<path d="M121.3 120.5L123.6 122.8L121.3 125.1L119.0 122.8Z" fill="#FF00FF"/>
<path d="M126.0 124.7L128.3 127.0L126.0 129.3L123.7 127.0Z" fill="#FF00FF"/>
<path d="M130.7 128.2L133.0 130.5L130.7 132.8L128.4 130.5Z" fill="#FF00FF"/>
<path d="M135.4 128.2L137.7 130.5L135.4 132.8L133.1 130.5Z" fill="#FF00FF"/>
<path d="M140.1 95.0L142.4 97.3L140.1 99.6L137.8 97.3Z" fill="#FF00FF"/>
<path d="M144.8 97.2L147.1 99.5L144.8 101.8L142.5 99.5Z" fill="#FF00FF"/>
<path d="M149.5 111.2L151.8 113.5L149.5 115.8L147.2 113.5Z" fill="#FF00FF"/>
<path d="M154.2 102.2L156.5 104.5L154.2 106.8L151.9 104.5Z" fill="#FF00FF"/>
<path d="M158.9 111.8L161.2 114.1L158.9 116.4L156.6 114.1Z" fill="#FF00FF"/>
<path d="M163.6 111.4L165.9 113.7L163.6 116.0L161.3 113.7Z" fill="#FF00FF"/>
<path d="M168.3 113.9L170.6 116.2L168.3 118.5L166.0 116.2Z" fill="#FF00FF"/>
<path d="M173.0 117.0L175.3 119.3L173.0 121.6L170.7 119.3Z" fill="#FF00FF"/>
<path d="M177.7 120.7L180.0 123.0L177.7 125.3L175.4 123.0Z" fill="#FF00FF"/>
<path d="M182.4 118.9L184.7 121.2L182.4 123.5L180.1 121.2Z" fill="#FF00FF"/>
<path d="M187.1 115.7L189.4 118.0L187.1 120.3L184.8 118.0Z" fill="#FF00FF"/>
<path d="M191.8 119.7L194.1 122.0L191.8 124.3L189.5 122.0Z" fill="#FF00FF"/>
<path d="M196.5 117.7L198.8 120.0L196.5 122.3L194.2 120.0Z" fill="#FF00FF"/>
<path d="M201.2 113.0L203.5 115.3L201.2 117.6L198.9 115.3Z" fill="#FF00FF"/>
<path d="M205.9 87.3L208.2 89.6L205.9 91.9L203.6 89.6Z" fill="#FF00FF"/>
<path d="M210.6 92.9L212.9 95.2L210.6 97.5L208.3 95.2Z" fill="#FF00FF"/>
<path d="M215.3 90.1L217.6 92.4L215.3 94.7L213.0 92.4Z" fill="#FF00FF"/>
<path d="M220.0 110.1L222.3 112.4L220.0 114.7L217.7 112.4Z" fill="#FF00FF"/>
<path d="M224.7 90.0L227.0 92.3L224.7 94.6L222.4 92.3Z" fill="#FF00FF"/>
<path d="M229.4 88.5L231.7 90.8L229.4 93.1L227.1 90.8Z" fill="#FF00FF"/>
<path d="M234.1 93.0L236.4 95.3L234.1 97.6L231.8 95.3Z" fill="#FF00FF"/>
<path d="M238.8 69.4L241.1 71.7L238.8 74.0L236.5 71.7Z" fill="#FF00FF"/>
<path d="M243.5 81.7L245.8 84.0L243.5 86.3L241.2 84.0Z" fill="#FF00FF"/>
<path d="M248.2 86.0L250.5 88.3L248.2 90.6L245.9 88.3Z" fill="#FF00FF"/>
<path d="M252.9 81.3L255.2 83.6L252.9 85.9L250.6 83.6Z" fill="#FF00FF"/>
<path d="M257.6 77.6L259.9 79.9L257.6 82.2L255.3 79.9Z" fill="#FF00FF"/>
<path d="M262.3 95.8L264.6 98.1L262.3 100.4L260.0 98.1Z" fill="#FF00FF"/>
<path d="M267.0 97.3L269.3 99.6L267.0 101.9L264.7 99.6Z" fill="#FF00FF"/>
<path d="M271.7 91.6L274.0 93.9L271.7 96.2L269.4 93.9Z" fill="#FF00FF"/>
<path d="M276.4 87.4L278.7 89.7L276.4 92.0L274.1 89.7Z" fill="#FF00FF"/>
<path d="M281.1 103.7L283.4 106.0L281.1 108.3L278.8 106.0Z" fill="#FF00FF"/>
<path d="M285.8 105.0L288.1 107.3L285.8 109.6L283.5 107.3Z" fill="#FF00FF"/>
<path d="M290.5 88.7L292.8 91.0L290.5 93.3L288.2 91.0Z" fill="#FF00FF"/>
<path d="M295.2 87.4L297.5 89.7L295.2 92.0L292.9 89.7Z" fill="#FF00FF"/>
<path d="M299.9 105.9L302.2 108.2L299.9 110.5L297.6 108.2Z" fill="#FF00FF"/>
<path d="M304.6 103.4L306.9 105.7L304.6 108.0L302.3 105.7Z" fill="#FF00FF"/>
<path d="M309.3 94.3L311.6 96.6L309.3 98.9L307.0 96.6Z" fill="#FF00FF"/>
<path d="M314.0 73.8L316.3 76.1L314.0 78.4L311.7 76.1Z" fill="#FF00FF"/>
<path d="M318.7 99.7L321.0 102.0L318.7 104.3L316.4 102.0Z" fill="#FF00FF"/>
<path d="M323.4 93.6L325.7 95.9L323.4 98.2L321.1 95.9Z" fill="#FF00FF"/>
<path d="M328.1 86.1L330.4 88.4L328.1 90.7L325.8 88.4Z" fill="#FF00FF"/>
<path d="M332.8 70.4L335.1 72.7L332.8 75.0L330.5 72.7Z" fill="#FF00FF"/>
<path d="M337.5 54.3L339.8 56.6L337.5 58.9L335.2 56.6Z" fill="#FF00FF"/>
<path d="M342.2 69.2L344.5 71.5L342.2 73.8L339.9 71.5Z" fill="#FF00FF"/>
<path d="M346.9 54.3L349.2 56.6L346.9 58.9L344.6 56.6Z" fill="#FF00FF"/>
<path d="M351.6 63.9L353.9 66.2L351.6 68.5L349.3 66.2Z" fill="#FF00FF"/>
<path d="M356.3 58.2L358.6 60.5L356.3 62.8L354.0 60.5Z" fill="#FF00FF"/>
<path d="M361.0 72.9L363.3 75.2L361.0 77.5L358.7 75.2Z" fill="#FF00FF"/>
<path d="M365.7 65.7L368.0 68.0L365.7 70.3L363.4 68.0Z" fill="#FF00FF"/>
<path d="M370.4 66.1L372.7 68.4L370.4 70.7L368.1 68.4Z" fill="#FF00FF"/>
<path d="M375.1 114.0L377.4 116.3L375.1 118.6L372.8 116.3Z" fill="#FF00FF"/>
<path d="M379.8 62.0L382.1 64.3L379.8 66.6L377.5 64.3Z" fill="#FF00FF"/>
<path d="M384.5 53.8L386.8 56.1L384.5 58.4L382.2 56.1Z" fill="#FF00FF"/>
<path d="M389.2 68.0L391.5 70.3L389.2 72.6L386.9 70.3Z" fill="#FF00FF"/>
<path d="M393.9 56.8L396.2 59.1L393.9 61.4L391.6 59.1Z" fill="#FF00FF"/>
<path d="M398.6 68.4L400.9 70.7L398.6 73.0L396.3 70.7Z" fill="#FF00FF"/>
<path d="M403.3 50.7L405.6 53.0L403.3 55.3L401.0 53.0Z" fill="#FF00FF"/>
<path d="M408.0 64.7L410.3 67.0L408.0 69.3L405.7 67.0Z" fill="#FF00FF"/>
<path d="M412.7 63.3L415.0 65.6L412.7 67.9L410.4 65.6Z" fill="#FF00FF"/>
<path d="M417.4 114.0L419.7 116.3L417.4 118.6L415.1 116.3Z" fill="#FF00FF"/>
<path d="M422.1 62.0L424.4 64.3L422.1 66.6L419.8 64.3Z" fill="#FF00FF"/>
<polyline points="50.8,217.3 55.5,224.2 60.2,226.5 64.9,219.1 69.6,225.1 74.3,225.1 79.0,217.3 83.7,215.4 88.4,218.2 93.1,219.6 97.8,218.9 102.5,220.0 107.2,215.9 111.9,227.0 116.6,219.6 121.3,208.5 126.0,215.4 130.7,225.1 135.4,230.4 140.1,221.4 144.8,201.2 149.5,204.2 154.2,219.3 158.9,223.4 163.6,201.9 168.3,205.4 173.0,222.7 177.7,217.0 182.4,200.8 187.1,218.1 191.8,214.2 196.5,196.2 201.2,205.4 205.9,220.4 210.6,215.1 215.3,196.6 220.0,200.3 224.7,199.6 229.4,221.1 234.1,203.6 238.8,204.4 243.5,212.4 248.2,198.1 252.9,207.8 257.6,199.2 262.3,203.2 267.0,204.6 271.7,206.2 276.4,202.7 281.1,199.9 285.8,194.6 290.5,207.3 295.2,198.1 299.9,205.5 304.6,196.9 309.3,206.9 314.0,201.6 318.7,204.6 323.4,198.8 328.1,200.0 332.8,198.0 337.5,192.3 342.2,186.2 346.9,183.0 351.6,186.9 356.3,188.6 361.0,189.9 365.7,188.6 370.4,184.6 375.1,182.3 379.8,180.7 384.5,183.5 389.2,186.9 393.9,189.9 398.6,188.1 403.3,186.9 408.0,188.6 412.7,186.2 417.4,183.0 422.1,180.7" fill="none" stroke="#8A8A8A" stroke-width="2.82" stroke-linejoin="round" stroke-linecap="round"/>
<circle cx="50.8" cy="217.3" r="1.95" fill="#000000"/>
<circle cx="55.5" cy="224.2" r="1.95" fill="#000000"/>
<circle cx="60.2" cy="226.5" r="1.95" fill="#000000"/>
<circle cx="64.9" cy="219.1" r="1.95" fill="#000000"/>
<circle cx="69.6" cy="225.1" r="1.95" fill="#000000"/>
<circle cx="74.3" cy="225.1" r="1.95" fill="#000000"/>
<circle cx="79.0" cy="217.3" r="1.95" fill="#000000"/>
<circle cx="83.7" cy="215.4" r="1.95" fill="#000000"/>
<circle cx="88.4" cy="218.2" r="1.95" fill="#000000"/>
<circle cx="93.1" cy="219.6" r="1.95" fill="#000000"/>
<circle cx="97.8" cy="218.9" r="1.95" fill="#000000"/>
<circle cx="102.5" cy="220.0" r="1.95" fill="#000000"/>
<circle cx="107.2" cy="215.9" r="1.95" fill="#000000"/>
<circle cx="111.9" cy="227.0" r="1.95" fill="#000000"/>
<circle cx="116.6" cy="219.6" r="1.95" fill="#000000"/>
<circle cx="121.3" cy="208.5" r="1.95" fill="#000000"/>
<circle cx="126.0" cy="215.4" r="1.95" fill="#000000"/>
<circle cx="130.7" cy="225.1" r="1.95" fill="#000000"/>
<circle cx="135.4" cy="230.4" r="1.95" fill="#000000"/>
<circle cx="140.1" cy="221.4" r="1.95" fill="#000000"/>
<circle cx="144.8" cy="201.2" r="1.95" fill="#000000"/>
<circle cx="149.5" cy="204.2" r="1.95" fill="#000000"/>
<circle cx="154.2" cy="219.3" r="1.95" fill="#000000"/>
<circle cx="158.9" cy="223.4" r="1.95" fill="#000000"/>
<circle cx="163.6" cy="201.9" r="1.95" fill="#000000"/>
<circle cx="168.3" cy="205.4" r="1.95" fill="#000000"/>
<circle cx="173.0" cy="222.7" r="1.95" fill="#000000"/>
<circle cx="177.7" cy="217.0" r="1.95" fill="#000000"/>
<circle cx="182.4" cy="200.8" r="1.95" fill="#000000"/>
<circle cx="187.1" cy="218.1" r="1.95" fill="#000000"/>
<circle cx="191.8" cy="214.2" r="1.95" fill="#000000"/>
<circle cx="196.5" cy="196.2" r="1.95" fill="#000000"/>
<circle cx="201.2" cy="205.4" r="1.95" fill="#000000"/>
<circle cx="205.9" cy="220.4" r="1.95" fill="#000000"/>
<circle cx="210.6" cy="215.1" r="1.95" fill="#000000"/>
<circle cx="215.3" cy="196.6" r="1.95" fill="#000000"/>
<circle cx="220.0" cy="200.3" r="1.95" fill="#000000"/>
<circle cx="224.7" cy="199.6" r="1.95" fill="#000000"/>
<circle cx="229.4" cy="221.1" r="1.95" fill="#000000"/>
<circle cx="234.1" cy="203.6" r="1.95" fill="#000000"/>
<circle cx="238.8" cy="204.4" r="1.95" fill="#000000"/>
<circle cx="243.5" cy="212.4" r="1.95" fill="#000000"/>
<circle cx="248.2" cy="198.1" r="1.95" fill="#000000"/>
<circle cx="252.9" cy="207.8" r="1.95" fill="#000000"/>
<circle cx="257.6" cy="199.2" r="1.95" fill="#000000"/>
<circle cx="262.3" cy="203.2" r="1.95" fill="#000000"/>
<circle cx="267.0" cy="204.6" r="1.95" fill="#000000"/>
<circle cx="271.7" cy="206.2" r="1.95" fill="#000000"/>
<circle cx="276.4" cy="202.7" r="1.95" fill="#000000"/>
<circle cx="281.1" cy="199.9" r="1.95" fill="#000000"/>
<circle cx="285.8" cy="194.6" r="1.95" fill="#000000"/>
<circle cx="290.5" cy="207.3" r="1.95" fill="#000000"/>
<circle cx="295.2" cy="198.1" r="1.95" fill="#000000"/>
<circle cx="299.9" cy="205.5" r="1.95" fill="#000000"/>
<circle cx="304.6" cy="196.9" r="1.95" fill="#000000"/>
<circle cx="309.3" cy="206.9" r="1.95" fill="#000000"/>
<circle cx="314.0" cy="201.6" r="1.95" fill="#000000"/>
<circle cx="318.7" cy="204.6" r="1.95" fill="#000000"/>
<circle cx="323.4" cy="198.8" r="1.95" fill="#000000"/>
<circle cx="328.1" cy="200.0" r="1.95" fill="#000000"/>
<circle cx="332.8" cy="198.0" r="1.95" fill="#000000"/>
<circle cx="337.5" cy="192.3" r="1.95" fill="#000000"/>
<circle cx="342.2" cy="186.2" r="1.95" fill="#000000"/>
<circle cx="346.9" cy="183.0" r="1.95" fill="#000000"/>
<circle cx="351.6" cy="186.9" r="1.95" fill="#000000"/>
<circle cx="356.3" cy="188.6" r="1.95" fill="#000000"/>
<circle cx="361.0" cy="189.9" r="1.95" fill="#000000"/>
<circle cx="365.7" cy="188.6" r="1.95" fill="#000000"/>
<circle cx="370.4" cy="184.6" r="1.95" fill="#000000"/>
<circle cx="375.1" cy="182.3" r="1.95" fill="#000000"/>
<circle cx="379.8" cy="180.7" r="1.95" fill="#000000"/>
<circle cx="384.5" cy="183.5" r="1.95" fill="#000000"/>
<circle cx="389.2" cy="186.9" r="1.95" fill="#000000"/>
<circle cx="393.9" cy="189.9" r="1.95" fill="#000000"/>
<circle cx="398.6" cy="188.1" r="1.95" fill="#000000"/>
<circle cx="403.3" cy="186.9" r="1.95" fill="#000000"/>
<circle cx="408.0" cy="188.6" r="1.95" fill="#000000"/>
<circle cx="412.7" cy="186.2" r="1.95" fill="#000000"/>
<circle cx="417.4" cy="183.0" r="1.95" fill="#000000"/>
<circle cx="422.1" cy="180.7" r="1.95" fill="#000000"/>
<polyline points="50.8,137.1 55.5,183.2 60.2,141.5 64.9,160.5 69.6,145.3 74.3,159.4 79.0,151.6 83.7,177.0 88.4,147.2 93.1,166.9 97.8,163.7 102.5,168.5 107.2,177.0 111.9,187.5 116.6,176.8 121.3,168.4 126.0,166.0 130.7,186.9 135.4,153.5 140.1,165.0 144.8,128.8 149.5,127.7 154.2,142.5 158.9,140.0 163.6,128.6 168.3,137.0 173.0,148.5 177.7,151.8 182.4,154.4 187.1,124.2 191.8,136.9 196.5,133.1 201.2,130.1 205.9,133.3 210.6,142.4 215.3,123.1 220.0,134.6 224.7,142.3 229.4,139.7 234.1,136.1 238.8,105.0 243.5,115.7 248.2,131.9 252.9,122.6 257.6,100.0 262.3,92.3 267.0,128.8 271.7,128.0 276.4,116.7 281.1,112.3 285.8,116.1 290.5,126.9 295.2,109.9 299.9,124.6 304.6,143.4 309.3,126.4 314.0,114.8 318.7,115.2 323.4,128.0 328.1,123.0 332.8,134.8 337.5,137.0 342.2,146.2 346.9,142.3 351.6,121.5 356.3,146.2 361.0,137.6 365.7,132.0 370.4,138.9 375.1,134.5 379.8,152.9 384.5,148.5 389.2,149.1 393.9,132.5 398.6,141.5 403.3,136.4 408.0,133.0 412.7,142.1 417.4,135.0 422.1,152.9" fill="none" stroke="#62C99A" stroke-width="2.45" stroke-linejoin="round" stroke-linecap="round"/>
<path d="M50.8 134.7L53.1 138.9L48.5 138.9Z" fill="#00C800"/>
<path d="M55.5 180.8L57.8 185.0L53.2 185.0Z" fill="#00C800"/>
<path d="M60.2 139.1L62.5 143.3L57.9 143.3Z" fill="#00C800"/>
<path d="M64.9 158.1L67.2 162.3L62.6 162.3Z" fill="#00C800"/>
<path d="M69.6 142.9L71.9 147.1L67.3 147.1Z" fill="#00C800"/>
<path d="M74.3 157.0L76.6 161.2L72.0 161.2Z" fill="#00C800"/>
<path d="M79.0 149.2L81.3 153.4L76.7 153.4Z" fill="#00C800"/>
<path d="M83.7 174.6L86.0 178.8L81.4 178.8Z" fill="#00C800"/>
<path d="M88.4 144.8L90.7 149.0L86.1 149.0Z" fill="#00C800"/>
<path d="M93.1 164.5L95.4 168.7L90.8 168.7Z" fill="#00C800"/>
<path d="M97.8 161.3L100.1 165.5L95.5 165.5Z" fill="#00C800"/>
<path d="M102.5 166.1L104.8 170.3L100.2 170.3Z" fill="#00C800"/>
<path d="M107.2 174.6L109.5 178.8L104.9 178.8Z" fill="#00C800"/>
<path d="M111.9 185.1L114.2 189.3L109.6 189.3Z" fill="#00C800"/>
<path d="M116.6 174.4L118.9 178.6L114.3 178.6Z" fill="#00C800"/>
<path d="M121.3 166.0L123.6 170.2L119.0 170.2Z" fill="#00C800"/>
<path d="M126.0 163.6L128.3 167.8L123.7 167.8Z" fill="#00C800"/>
<path d="M130.7 184.5L133.0 188.7L128.4 188.7Z" fill="#00C800"/>
<path d="M135.4 151.1L137.7 155.3L133.1 155.3Z" fill="#00C800"/>
<path d="M140.1 162.6L142.4 166.8L137.8 166.8Z" fill="#00C800"/>
<path d="M144.8 126.4L147.1 130.6L142.5 130.6Z" fill="#00C800"/>
<path d="M149.5 125.3L151.8 129.5L147.2 129.5Z" fill="#00C800"/>
<path d="M154.2 140.1L156.5 144.3L151.9 144.3Z" fill="#00C800"/>
<path d="M158.9 137.6L161.2 141.8L156.6 141.8Z" fill="#00C800"/>
<path d="M163.6 126.2L165.9 130.4L161.3 130.4Z" fill="#00C800"/>
<path d="M168.3 134.6L170.6 138.8L166.0 138.8Z" fill="#00C800"/>
<path d="M173.0 146.1L175.3 150.3L170.7 150.3Z" fill="#00C800"/>
<path d="M177.7 149.4L180.0 153.6L175.4 153.6Z" fill="#00C800"/>
<path d="M182.4 152.0L184.7 156.2L180.1 156.2Z" fill="#00C800"/>
<path d="M187.1 121.8L189.4 126.0L184.8 126.0Z" fill="#00C800"/>
<path d="M191.8 134.5L194.1 138.7L189.5 138.7Z" fill="#00C800"/>
<path d="M196.5 130.7L198.8 134.9L194.2 134.9Z" fill="#00C800"/>
<path d="M201.2 127.7L203.5 131.9L198.9 131.9Z" fill="#00C800"/>
<path d="M205.9 130.9L208.2 135.1L203.6 135.1Z" fill="#00C800"/>
<path d="M210.6 140.0L212.9 144.2L208.3 144.2Z" fill="#00C800"/>
<path d="M215.3 120.7L217.6 124.9L213.0 124.9Z" fill="#00C800"/>
<path d="M220.0 132.2L222.3 136.4L217.7 136.4Z" fill="#00C800"/>
<path d="M224.7 139.9L227.0 144.1L222.4 144.1Z" fill="#00C800"/>
<path d="M229.4 137.3L231.7 141.5L227.1 141.5Z" fill="#00C800"/>
<path d="M234.1 133.7L236.4 137.9L231.8 137.9Z" fill="#00C800"/>
<path d="M238.8 102.6L241.1 106.8L236.5 106.8Z" fill="#00C800"/>
<path d="M243.5 113.3L245.8 117.5L241.2 117.5Z" fill="#00C800"/>
<path d="M248.2 129.5L250.5 133.7L245.9 133.7Z" fill="#00C800"/>
<path d="M252.9 120.2L255.2 124.4L250.6 124.4Z" fill="#00C800"/>
<path d="M257.6 97.6L259.9 101.8L255.3 101.8Z" fill="#00C800"/>
<path d="M262.3 89.9L264.6 94.1L260.0 94.1Z" fill="#00C800"/>
<path d="M267.0 126.4L269.3 130.6L264.7 130.6Z" fill="#00C800"/>
<path d="M271.7 125.6L274.0 129.8L269.4 129.8Z" fill="#00C800"/>
<path d="M276.4 114.3L278.7 118.5L274.1 118.5Z" fill="#00C800"/>
<path d="M281.1 109.9L283.4 114.1L278.8 114.1Z" fill="#00C800"/>
<path d="M285.8 113.7L288.1 117.9L283.5 117.9Z" fill="#00C800"/>
<path d="M290.5 124.5L292.8 128.7L288.2 128.7Z" fill="#00C800"/>
<path d="M295.2 107.5L297.5 111.7L292.9 111.7Z" fill="#00C800"/>
<path d="M299.9 122.2L302.2 126.4L297.6 126.4Z" fill="#00C800"/>
<path d="M304.6 141.0L306.9 145.2L302.3 145.2Z" fill="#00C800"/>
<path d="M309.3 124.0L311.6 128.2L307.0 128.2Z" fill="#00C800"/>
<path d="M314.0 112.4L316.3 116.6L311.7 116.6Z" fill="#00C800"/>
<path d="M318.7 112.8L321.0 117.0L316.4 117.0Z" fill="#00C800"/>
<path d="M323.4 125.6L325.7 129.8L321.1 129.8Z" fill="#00C800"/>
<path d="M328.1 120.6L330.4 124.8L325.8 124.8Z" fill="#00C800"/>
<path d="M332.8 132.4L335.1 136.6L330.5 136.6Z" fill="#00C800"/>
<path d="M337.5 134.6L339.8 138.8L335.2 138.8Z" fill="#00C800"/>
<path d="M342.2 143.8L344.5 148.0L339.9 148.0Z" fill="#00C800"/>
<path d="M346.9 139.9L349.2 144.1L344.6 144.1Z" fill="#00C800"/>
<path d="M351.6 119.1L353.9 123.3L349.3 123.3Z" fill="#00C800"/>
<path d="M356.3 143.8L358.6 148.0L354.0 148.0Z" fill="#00C800"/>
<path d="M361.0 135.2L363.3 139.4L358.7 139.4Z" fill="#00C800"/>
<path d="M365.7 129.6L368.0 133.8L363.4 133.8Z" fill="#00C800"/>
<path d="M370.4 136.5L372.7 140.7L368.1 140.7Z" fill="#00C800"/>
<path d="M375.1 132.1L377.4 136.3L372.8 136.3Z" fill="#00C800"/>
<path d="M379.8 150.5L382.1 154.7L377.5 154.7Z" fill="#00C800"/>
<path d="M384.5 146.1L386.8 150.3L382.2 150.3Z" fill="#00C800"/>
<path d="M389.2 146.7L391.5 150.9L386.9 150.9Z" fill="#00C800"/>
<path d="M393.9 130.1L396.2 134.3L391.6 134.3Z" fill="#00C800"/>
<path d="M398.6 139.1L400.9 143.3L396.3 143.3Z" fill="#00C800"/>
<path d="M403.3 134.0L405.6 138.2L401.0 138.2Z" fill="#00C800"/>
<path d="M408.0 130.6L410.3 134.8L405.7 134.8Z" fill="#00C800"/>
<path d="M412.7 139.7L415.0 143.9L410.4 143.9Z" fill="#00C800"/>
<path d="M417.4 132.6L419.7 136.8L415.1 136.8Z" fill="#00C800"/>
<path d="M422.1 150.5L424.4 154.7L419.8 154.7Z" fill="#00C800"/>
<polyline points="50.8,149.6 55.5,152.4 60.2,158.9 64.9,164.7 69.6,168.2 74.3,172.5 79.0,154.9 83.7,167.5 88.4,160.5 93.1,170.0 97.8,168.0 102.5,166.3 107.2,174.3 111.9,149.3 116.6,173.3 121.3,172.3 126.0,183.4 130.7,154.2 135.4,176.2 140.1,176.2 144.8,136.2 149.5,138.0 154.2,150.4 158.9,141.7 163.6,134.0 168.3,124.6 173.0,144.2 177.7,143.5 182.4,143.5 187.1,142.0 191.8,142.3 196.5,146.3 201.2,147.3 205.9,141.1 210.6,138.5 215.3,145.8 220.0,138.1 224.7,146.1 229.4,146.8 234.1,143.2 238.8,133.8 243.5,136.4 248.2,126.3 252.9,138.1 257.6,128.5 262.3,141.9 267.0,135.2 271.7,116.5 276.4,128.4 281.1,129.5 285.8,109.7 290.5,120.5 295.2,133.4 299.9,163.5 304.6,115.2 309.3,121.2 314.0,131.1 318.7,126.1 323.4,132.1 328.1,134.5 332.8,144.1 337.5,156.6 342.2,141.7 346.9,146.2 351.6,139.8 356.3,157.4 361.0,147.2 365.7,124.0 370.4,143.4 375.1,133.8 379.8,147.2 384.5,142.3 389.2,140.6 393.9,136.0 398.6,137.6 403.3,133.4 408.0,127.8 412.7,128.0 417.4,133.4 422.1,147.4" fill="none" stroke="#E06C6C" stroke-width="2.45" stroke-linejoin="round" stroke-linecap="round"/>
<rect x="49.00" y="147.80" width="3.60" height="3.60" fill="#FF0000"/>
<rect x="53.70" y="150.60" width="3.60" height="3.60" fill="#FF0000"/>
<rect x="58.40" y="157.10" width="3.60" height="3.60" fill="#FF0000"/>
<rect x="63.10" y="162.90" width="3.60" height="3.60" fill="#FF0000"/>
<rect x="67.80" y="166.40" width="3.60" height="3.60" fill="#FF0000"/>
<rect x="72.50" y="170.70" width="3.60" height="3.60" fill="#FF0000"/>
<rect x="77.20" y="153.10" width="3.60" height="3.60" fill="#FF0000"/>
<rect x="81.90" y="165.70" width="3.60" height="3.60" fill="#FF0000"/>
<rect x="86.60" y="158.70" width="3.60" height="3.60" fill="#FF0000"/>
<rect x="91.30" y="168.20" width="3.60" height="3.60" fill="#FF0000"/>
<rect x="96.00" y="166.20" width="3.60" height="3.60" fill="#FF0000"/>
<rect x="100.70" y="164.50" width="3.60" height="3.60" fill="#FF0000"/>
<rect x="105.40" y="172.50" width="3.60" height="3.60" fill="#FF0000"/>
<rect x="110.10" y="147.50" width="3.60" height="3.60" fill="#FF0000"/>
<rect x="114.80" y="171.50" width="3.60" height="3.60" fill="#FF0000"/>
<rect x="119.50" y="170.50" width="3.60" height="3.60" fill="#FF0000"/>
<rect x="124.20" y="181.60" width="3.60" height="3.60" fill="#FF0000"/>
<rect x="128.90" y="152.40" width="3.60" height="3.60" fill="#FF0000"/>
<rect x="133.60" y="174.40" width="3.60" height="3.60" fill="#FF0000"/>
<rect x="138.30" y="174.40" width="3.60" height="3.60" fill="#FF0000"/>
<rect x="143.00" y="134.40" width="3.60" height="3.60" fill="#FF0000"/>
<rect x="147.70" y="136.20" width="3.60" height="3.60" fill="#FF0000"/>
<rect x="152.40" y="148.60" width="3.60" height="3.60" fill="#FF0000"/>
<rect x="157.10" y="139.90" width="3.60" height="3.60" fill="#FF0000"/>
<rect x="161.80" y="132.20" width="3.60" height="3.60" fill="#FF0000"/>
<rect x="166.50" y="122.80" width="3.60" height="3.60" fill="#FF0000"/>
<rect x="171.20" y="142.40" width="3.60" height="3.60" fill="#FF0000"/>
<rect x="175.90" y="141.70" width="3.60" height="3.60" fill="#FF0000"/>
<rect x="180.60" y="141.70" width="3.60" height="3.60" fill="#FF0000"/>
<rect x="185.30" y="140.20" width="3.60" height="3.60" fill="#FF0000"/>
<rect x="190.00" y="140.50" width="3.60" height="3.60" fill="#FF0000"/>
<rect x="194.70" y="144.50" width="3.60" height="3.60" fill="#FF0000"/>
<rect x="199.40" y="145.50" width="3.60" height="3.60" fill="#FF0000"/>
<rect x="204.10" y="139.30" width="3.60" height="3.60" fill="#FF0000"/>
<rect x="208.80" y="136.70" width="3.60" height="3.60" fill="#FF0000"/>
<rect x="213.50" y="144.00" width="3.60" height="3.60" fill="#FF0000"/>
<rect x="218.20" y="136.30" width="3.60" height="3.60" fill="#FF0000"/>
<rect x="222.90" y="144.30" width="3.60" height="3.60" fill="#FF0000"/>
<rect x="227.60" y="145.00" width="3.60" height="3.60" fill="#FF0000"/>
<rect x="232.30" y="141.40" width="3.60" height="3.60" fill="#FF0000"/>
<rect x="237.00" y="132.00" width="3.60" height="3.60" fill="#FF0000"/>
<rect x="241.70" y="134.60" width="3.60" height="3.60" fill="#FF0000"/>
<rect x="246.40" y="124.50" width="3.60" height="3.60" fill="#FF0000"/>
<rect x="251.10" y="136.30" width="3.60" height="3.60" fill="#FF0000"/>
<rect x="255.80" y="126.70" width="3.60" height="3.60" fill="#FF0000"/>
<rect x="260.50" y="140.10" width="3.60" height="3.60" fill="#FF0000"/>
<rect x="265.20" y="133.40" width="3.60" height="3.60" fill="#FF0000"/>
<rect x="269.90" y="114.70" width="3.60" height="3.60" fill="#FF0000"/>
<rect x="274.60" y="126.60" width="3.60" height="3.60" fill="#FF0000"/>
<rect x="279.30" y="127.70" width="3.60" height="3.60" fill="#FF0000"/>
<rect x="284.00" y="107.90" width="3.60" height="3.60" fill="#FF0000"/>
<rect x="288.70" y="118.70" width="3.60" height="3.60" fill="#FF0000"/>
<rect x="293.40" y="131.60" width="3.60" height="3.60" fill="#FF0000"/>
<rect x="298.10" y="161.70" width="3.60" height="3.60" fill="#FF0000"/>
<rect x="302.80" y="113.40" width="3.60" height="3.60" fill="#FF0000"/>
<rect x="307.50" y="119.40" width="3.60" height="3.60" fill="#FF0000"/>
<rect x="312.20" y="129.30" width="3.60" height="3.60" fill="#FF0000"/>
<rect x="316.90" y="124.30" width="3.60" height="3.60" fill="#FF0000"/>
<rect x="321.60" y="130.30" width="3.60" height="3.60" fill="#FF0000"/>
<rect x="326.30" y="132.70" width="3.60" height="3.60" fill="#FF0000"/>
<rect x="331.00" y="142.30" width="3.60" height="3.60" fill="#FF0000"/>
<rect x="335.70" y="154.80" width="3.60" height="3.60" fill="#FF0000"/>
<rect x="340.40" y="139.90" width="3.60" height="3.60" fill="#FF0000"/>
<rect x="345.10" y="144.40" width="3.60" height="3.60" fill="#FF0000"/>
<rect x="349.80" y="138.00" width="3.60" height="3.60" fill="#FF0000"/>
<rect x="354.50" y="155.60" width="3.60" height="3.60" fill="#FF0000"/>
<rect x="359.20" y="145.40" width="3.60" height="3.60" fill="#FF0000"/>
<rect x="363.90" y="122.20" width="3.60" height="3.60" fill="#FF0000"/>
<rect x="368.60" y="141.60" width="3.60" height="3.60" fill="#FF0000"/>
<rect x="373.30" y="132.00" width="3.60" height="3.60" fill="#FF0000"/>
<rect x="378.00" y="145.40" width="3.60" height="3.60" fill="#FF0000"/>
<rect x="382.70" y="140.50" width="3.60" height="3.60" fill="#FF0000"/>
<rect x="387.40" y="138.80" width="3.60" height="3.60" fill="#FF0000"/>
<rect x="392.10" y="134.20" width="3.60" height="3.60" fill="#FF0000"/>
<rect x="396.80" y="135.80" width="3.60" height="3.60" fill="#FF0000"/>
<rect x="401.50" y="131.60" width="3.60" height="3.60" fill="#FF0000"/>
<rect x="406.20" y="126.00" width="3.60" height="3.60" fill="#FF0000"/>
<rect x="410.90" y="126.20" width="3.60" height="3.60" fill="#FF0000"/>
<rect x="415.60" y="131.60" width="3.60" height="3.60" fill="#FF0000"/>
<rect x="420.30" y="145.60" width="3.60" height="3.60" fill="#FF0000"/>
<polyline points="50.8,151.8 55.5,162.7 60.2,166.5 64.9,171.7 69.6,162.7 74.3,169.8 79.0,161.1 83.7,160.3 88.4,163.5 93.1,155.0 97.8,171.7 102.5,163.5 107.2,163.9 111.9,172.0 116.6,169.2 121.3,157.5 126.0,165.9 130.7,162.8 135.4,172.2 140.1,165.9 144.8,103.3 149.5,122.0 154.2,121.6 158.9,128.6 163.6,136.7 168.3,120.8 173.0,127.9 177.7,129.6 182.4,135.2 187.1,117.1 191.8,125.4 196.5,121.9 201.2,126.6 205.9,129.3 210.6,105.8 215.3,127.5 220.0,127.5 224.7,139.0 229.4,130.5 234.1,122.2 238.8,92.4 243.5,118.4 248.2,102.2 252.9,112.6 257.6,123.5 262.3,111.8 267.0,117.6 271.7,128.4 276.4,102.0 281.1,122.8 285.8,138.4 290.5,116.5 295.2,119.3 299.9,120.5 304.6,121.2 309.3,108.6 314.0,103.9 318.7,112.5 323.4,113.8 328.1,116.5 332.8,108.9 337.5,126.4 342.2,128.7 346.9,139.3 351.6,125.3 356.3,124.5 361.0,131.9 365.7,129.4 370.4,124.0 375.1,128.7 379.8,137.6 384.5,127.5 389.2,132.5 393.9,126.8 398.6,131.3 403.3,139.8 408.0,132.9 412.7,128.7 417.4,128.7 422.1,138.0" fill="none" stroke="#7373FF" stroke-width="2.45" stroke-linejoin="round" stroke-linecap="round"/>
<circle cx="50.8" cy="151.8" r="2.15" fill="#0000FF"/>
<circle cx="55.5" cy="162.7" r="2.15" fill="#0000FF"/>
<circle cx="60.2" cy="166.5" r="2.15" fill="#0000FF"/>
<circle cx="64.9" cy="171.7" r="2.15" fill="#0000FF"/>
<circle cx="69.6" cy="162.7" r="2.15" fill="#0000FF"/>
<circle cx="74.3" cy="169.8" r="2.15" fill="#0000FF"/>
<circle cx="79.0" cy="161.1" r="2.15" fill="#0000FF"/>
<circle cx="83.7" cy="160.3" r="2.15" fill="#0000FF"/>
<circle cx="88.4" cy="163.5" r="2.15" fill="#0000FF"/>
<circle cx="93.1" cy="155.0" r="2.15" fill="#0000FF"/>
<circle cx="97.8" cy="171.7" r="2.15" fill="#0000FF"/>
<circle cx="102.5" cy="163.5" r="2.15" fill="#0000FF"/>
<circle cx="107.2" cy="163.9" r="2.15" fill="#0000FF"/>
<circle cx="111.9" cy="172.0" r="2.15" fill="#0000FF"/>
<circle cx="116.6" cy="169.2" r="2.15" fill="#0000FF"/>
<circle cx="121.3" cy="157.5" r="2.15" fill="#0000FF"/>
<circle cx="126.0" cy="165.9" r="2.15" fill="#0000FF"/>
<circle cx="130.7" cy="162.8" r="2.15" fill="#0000FF"/>
<circle cx="135.4" cy="172.2" r="2.15" fill="#0000FF"/>
<circle cx="140.1" cy="165.9" r="2.15" fill="#0000FF"/>
<circle cx="144.8" cy="103.3" r="2.15" fill="#0000FF"/>
<circle cx="149.5" cy="122.0" r="2.15" fill="#0000FF"/>
<circle cx="154.2" cy="121.6" r="2.15" fill="#0000FF"/>
<circle cx="158.9" cy="128.6" r="2.15" fill="#0000FF"/>
<circle cx="163.6" cy="136.7" r="2.15" fill="#0000FF"/>
<circle cx="168.3" cy="120.8" r="2.15" fill="#0000FF"/>
<circle cx="173.0" cy="127.9" r="2.15" fill="#0000FF"/>
<circle cx="177.7" cy="129.6" r="2.15" fill="#0000FF"/>
<circle cx="182.4" cy="135.2" r="2.15" fill="#0000FF"/>
<circle cx="187.1" cy="117.1" r="2.15" fill="#0000FF"/>
<circle cx="191.8" cy="125.4" r="2.15" fill="#0000FF"/>
<circle cx="196.5" cy="121.9" r="2.15" fill="#0000FF"/>
<circle cx="201.2" cy="126.6" r="2.15" fill="#0000FF"/>
<circle cx="205.9" cy="129.3" r="2.15" fill="#0000FF"/>
<circle cx="210.6" cy="105.8" r="2.15" fill="#0000FF"/>
<circle cx="215.3" cy="127.5" r="2.15" fill="#0000FF"/>
<circle cx="220.0" cy="127.5" r="2.15" fill="#0000FF"/>
<circle cx="224.7" cy="139.0" r="2.15" fill="#0000FF"/>
<circle cx="229.4" cy="130.5" r="2.15" fill="#0000FF"/>
<circle cx="234.1" cy="122.2" r="2.15" fill="#0000FF"/>
<circle cx="238.8" cy="92.4" r="2.15" fill="#0000FF"/>
<circle cx="243.5" cy="118.4" r="2.15" fill="#0000FF"/>
<circle cx="248.2" cy="102.2" r="2.15" fill="#0000FF"/>
<circle cx="252.9" cy="112.6" r="2.15" fill="#0000FF"/>
<circle cx="257.6" cy="123.5" r="2.15" fill="#0000FF"/>
<circle cx="262.3" cy="111.8" r="2.15" fill="#0000FF"/>
<circle cx="267.0" cy="117.6" r="2.15" fill="#0000FF"/>
<circle cx="271.7" cy="128.4" r="2.15" fill="#0000FF"/>
<circle cx="276.4" cy="102.0" r="2.15" fill="#0000FF"/>
<circle cx="281.1" cy="122.8" r="2.15" fill="#0000FF"/>
<circle cx="285.8" cy="138.4" r="2.15" fill="#0000FF"/>
<circle cx="290.5" cy="116.5" r="2.15" fill="#0000FF"/>
<circle cx="295.2" cy="119.3" r="2.15" fill="#0000FF"/>
<circle cx="299.9" cy="120.5" r="2.15" fill="#0000FF"/>
<circle cx="304.6" cy="121.2" r="2.15" fill="#0000FF"/>
<circle cx="309.3" cy="108.6" r="2.15" fill="#0000FF"/>
<circle cx="314.0" cy="103.9" r="2.15" fill="#0000FF"/>
<circle cx="318.7" cy="112.5" r="2.15" fill="#0000FF"/>
<circle cx="323.4" cy="113.8" r="2.15" fill="#0000FF"/>
<circle cx="328.1" cy="116.5" r="2.15" fill="#0000FF"/>
<circle cx="332.8" cy="108.9" r="2.15" fill="#0000FF"/>
<circle cx="337.5" cy="126.4" r="2.15" fill="#0000FF"/>
<circle cx="342.2" cy="128.7" r="2.15" fill="#0000FF"/>
<circle cx="346.9" cy="139.3" r="2.15" fill="#0000FF"/>
<circle cx="351.6" cy="125.3" r="2.15" fill="#0000FF"/>
<circle cx="356.3" cy="124.5" r="2.15" fill="#0000FF"/>
<circle cx="361.0" cy="131.9" r="2.15" fill="#0000FF"/>
<circle cx="365.7" cy="129.4" r="2.15" fill="#0000FF"/>
<circle cx="370.4" cy="124.0" r="2.15" fill="#0000FF"/>
<circle cx="375.1" cy="128.7" r="2.15" fill="#0000FF"/>
<circle cx="379.8" cy="137.6" r="2.15" fill="#0000FF"/>
<circle cx="384.5" cy="127.5" r="2.15" fill="#0000FF"/>
<circle cx="389.2" cy="132.5" r="2.15" fill="#0000FF"/>
<circle cx="393.9" cy="126.8" r="2.15" fill="#0000FF"/>
<circle cx="398.6" cy="131.3" r="2.15" fill="#0000FF"/>
<circle cx="403.3" cy="139.8" r="2.15" fill="#0000FF"/>
<circle cx="408.0" cy="132.9" r="2.15" fill="#0000FF"/>
<circle cx="412.7" cy="128.7" r="2.15" fill="#0000FF"/>
<circle cx="417.4" cy="128.7" r="2.15" fill="#0000FF"/>
<circle cx="422.1" cy="138.0" r="2.15" fill="#0000FF"/>
<line x1="30.5" y1="261.6" x2="48" y2="261.6" stroke="#8497B8" stroke-width="2.9" stroke-linecap="round"/>
<rect x="37.27" y="259.62" width="3.96" height="3.96" fill="#1F66C0"/>
<text x="49.1" y="261.6" dominant-baseline="central" font-family="Liberation Serif, serif" font-size="9.5" fill="#111" stroke="#111" stroke-width="0.18">Coated Paper</text>
<line x1="107.5" y1="261.6" x2="124" y2="261.6" stroke="#FF6EFF" stroke-width="2.9" stroke-linecap="round"/>
<path d="M115.8 259.1L118.3 261.6L115.8 264.1L113.2 261.6Z" fill="#FF00FF"/>
<text x="125.1" y="261.6" dominant-baseline="central" font-family="Liberation Serif, serif" font-size="9.5" fill="#111" stroke="#111" stroke-width="0.18">Canvas paper</text>
<line x1="184" y1="261.6" x2="202.5" y2="261.6" stroke="#8A8A8A" stroke-width="2.9" stroke-linecap="round"/>
<circle cx="193.2" cy="261.6" r="2.15" fill="#000000"/>
<text x="203.6" y="261.6" dominant-baseline="central" font-family="Liberation Serif, serif" font-size="9.5" fill="#111" stroke="#111" stroke-width="0.18">IronPlate</text>
<line x1="245" y1="261.6" x2="263.5" y2="261.6" stroke="#62C99A" stroke-width="2.9" stroke-linecap="round"/>
<path d="M254.2 259.0L256.8 263.6L251.7 263.6Z" fill="#00C800"/>
<text x="264.6" y="261.6" dominant-baseline="central" font-family="Liberation Serif, serif" font-size="9.5" fill="#111" stroke="#111" stroke-width="0.18">MDF</text>
<line x1="291.5" y1="261.6" x2="310" y2="261.6" stroke="#E06C6C" stroke-width="2.9" stroke-linecap="round"/>
<rect x="298.77" y="259.62" width="3.96" height="3.96" fill="#FF0000"/>
<text x="311.1" y="261.6" dominant-baseline="central" font-family="Liberation Serif, serif" font-size="9.5" fill="#111" stroke="#111" stroke-width="0.18">Acrylic</text>
<line x1="346.5" y1="261.6" x2="364" y2="261.6" stroke="#7373FF" stroke-width="2.9" stroke-linecap="round"/>
<circle cx="355.2" cy="261.6" r="2.37" fill="#0000FF"/>
<text x="365.1" y="261.6" dominant-baseline="central" font-family="Liberation Serif, serif" font-size="9.5" fill="#111" stroke="#111" stroke-width="0.18">Foamboard</text>
<line x1="48.4" y1="487.75" x2="422" y2="487.75" stroke="#E8E8E8" stroke-width="1"/>
<line x1="48.4" y1="469.20" x2="422" y2="469.20" stroke="#E8E8E8" stroke-width="1"/>
<line x1="48.4" y1="450.65" x2="422" y2="450.65" stroke="#E8E8E8" stroke-width="1"/>
<line x1="48.4" y1="432.10" x2="422" y2="432.10" stroke="#E8E8E8" stroke-width="1"/>
<line x1="48.4" y1="413.55" x2="422" y2="413.55" stroke="#E8E8E8" stroke-width="1"/>
<line x1="48.4" y1="395.00" x2="422" y2="395.00" stroke="#E8E8E8" stroke-width="1"/>
<line x1="48.4" y1="376.45" x2="422" y2="376.45" stroke="#E8E8E8" stroke-width="1"/>
<line x1="48.4" y1="357.90" x2="422" y2="357.90" stroke="#E8E8E8" stroke-width="1"/>
<line x1="48.4" y1="339.35" x2="422" y2="339.35" stroke="#E8E8E8" stroke-width="1"/>
<line x1="48.4" y1="320.80" x2="422" y2="320.80" stroke="#E8E8E8" stroke-width="1"/>
<line x1="48.4" y1="302.25" x2="422" y2="302.25" stroke="#E8E8E8" stroke-width="1"/>
<line x1="48.4" y1="283.70" x2="422" y2="283.70" stroke="#E8E8E8" stroke-width="1"/>
<line x1="48.4" y1="506.30" x2="422" y2="506.30" stroke="#E8E8E8" stroke-width="1"/>
<line x1="48.4" y1="506.3" x2="48.4" y2="508.8" stroke="#E6E6E6" stroke-width="0.7"/>
<line x1="95.7" y1="506.3" x2="95.7" y2="508.8" stroke="#E6E6E6" stroke-width="0.7"/>
<line x1="142.9" y1="506.3" x2="142.9" y2="508.8" stroke="#E6E6E6" stroke-width="0.7"/>
<line x1="190.2" y1="506.3" x2="190.2" y2="508.8" stroke="#E6E6E6" stroke-width="0.7"/>
<line x1="237.4" y1="506.3" x2="237.4" y2="508.8" stroke="#E6E6E6" stroke-width="0.7"/>
<line x1="284.7" y1="506.3" x2="284.7" y2="508.8" stroke="#E6E6E6" stroke-width="0.7"/>
<line x1="332.0" y1="506.3" x2="332.0" y2="508.8" stroke="#E6E6E6" stroke-width="0.7"/>
<line x1="379.2" y1="506.3" x2="379.2" y2="508.8" stroke="#E6E6E6" stroke-width="0.7"/>
<text transform="translate(37.2,506.30) scale(0.9,1)" text-anchor="end" dominant-baseline="central" font-family="Liberation Sans, sans-serif" font-size="9.0" font-weight="normal" fill="#1E1E1E" stroke="#1E1E1E" stroke-width="0.3">22</text>
<text transform="translate(37.2,487.75) scale(0.9,1)" text-anchor="end" dominant-baseline="central" font-family="Liberation Sans, sans-serif" font-size="9.0" font-weight="normal" fill="#1E1E1E" stroke="#1E1E1E" stroke-width="0.3">23</text>
<text transform="translate(37.2,469.20) scale(0.9,1)" text-anchor="end" dominant-baseline="central" font-family="Liberation Sans, sans-serif" font-size="9.0" font-weight="normal" fill="#1E1E1E" stroke="#1E1E1E" stroke-width="0.3">24</text>
<text transform="translate(37.2,450.65) scale(0.9,1)" text-anchor="end" dominant-baseline="central" font-family="Liberation Sans, sans-serif" font-size="9.0" font-weight="normal" fill="#1E1E1E" stroke="#1E1E1E" stroke-width="0.3">25</text>
<text transform="translate(37.2,432.10) scale(0.9,1)" text-anchor="end" dominant-baseline="central" font-family="Liberation Sans, sans-serif" font-size="9.0" font-weight="normal" fill="#1E1E1E" stroke="#1E1E1E" stroke-width="0.3">26</text>
<text transform="translate(37.2,413.55) scale(0.9,1)" text-anchor="end" dominant-baseline="central" font-family="Liberation Sans, sans-serif" font-size="9.0" font-weight="normal" fill="#1E1E1E" stroke="#1E1E1E" stroke-width="0.3">27</text>
<text transform="translate(37.2,395.00) scale(0.9,1)" text-anchor="end" dominant-baseline="central" font-family="Liberation Sans, sans-serif" font-size="9.0" font-weight="normal" fill="#1E1E1E" stroke="#1E1E1E" stroke-width="0.3">28</text>
<text transform="translate(37.2,376.45) scale(0.9,1)" text-anchor="end" dominant-baseline="central" font-family="Liberation Sans, sans-serif" font-size="9.0" font-weight="normal" fill="#1E1E1E" stroke="#1E1E1E" stroke-width="0.3">29</text>
<text transform="translate(37.2,357.90) scale(0.9,1)" text-anchor="end" dominant-baseline="central" font-family="Liberation Sans, sans-serif" font-size="9.0" font-weight="normal" fill="#1E1E1E" stroke="#1E1E1E" stroke-width="0.3">30</text>
<text transform="translate(37.2,339.35) scale(0.9,1)" text-anchor="end" dominant-baseline="central" font-family="Liberation Sans, sans-serif" font-size="9.0" font-weight="normal" fill="#1E1E1E" stroke="#1E1E1E" stroke-width="0.3">31</text>
<text transform="translate(37.2,320.80) scale(0.9,1)" text-anchor="end" dominant-baseline="central" font-family="Liberation Sans, sans-serif" font-size="9.0" font-weight="normal" fill="#1E1E1E" stroke="#1E1E1E" stroke-width="0.3">32</text>
<text transform="translate(37.2,302.25) scale(0.9,1)" text-anchor="end" dominant-baseline="central" font-family="Liberation Sans, sans-serif" font-size="9.0" font-weight="normal" fill="#1E1E1E" stroke="#1E1E1E" stroke-width="0.3">33</text>
<text transform="translate(37.2,283.70) scale(0.9,1)" text-anchor="end" dominant-baseline="central" font-family="Liberation Sans, sans-serif" font-size="9.0" font-weight="normal" fill="#1E1E1E" stroke="#1E1E1E" stroke-width="0.3">34</text>
<text x="48.4" y="515.8" text-anchor="middle" dominant-baseline="central" font-family="Liberation Sans, sans-serif" font-size="6.6" font-weight="normal" fill="#2E2E2E" stroke="#2E2E2E" stroke-width="0.18">1</text>
<text x="57.9" y="515.8" text-anchor="middle" dominant-baseline="central" font-family="Liberation Sans, sans-serif" font-size="6.6" font-weight="normal" fill="#2E2E2E" stroke="#2E2E2E" stroke-width="0.18">3</text>
<text x="67.3" y="515.8" text-anchor="middle" dominant-baseline="central" font-family="Liberation Sans, sans-serif" font-size="6.6" font-weight="normal" fill="#2E2E2E" stroke="#2E2E2E" stroke-width="0.18">5</text>
<text x="76.8" y="515.8" text-anchor="middle" dominant-baseline="central" font-family="Liberation Sans, sans-serif" font-size="6.6" font-weight="normal" fill="#2E2E2E" stroke="#2E2E2E" stroke-width="0.18">7</text>
<text x="86.2" y="515.8" text-anchor="middle" dominant-baseline="central" font-family="Liberation Sans, sans-serif" font-size="6.6" font-weight="normal" fill="#2E2E2E" stroke="#2E2E2E" stroke-width="0.18">9</text>
<text x="95.7" y="515.8" text-anchor="middle" dominant-baseline="central" font-family="Liberation Sans, sans-serif" font-size="6.6" font-weight="normal" fill="#2E2E2E" stroke="#2E2E2E" stroke-width="0.18">11</text>
<text x="105.1" y="515.8" text-anchor="middle" dominant-baseline="central" font-family="Liberation Sans, sans-serif" font-size="6.6" font-weight="normal" fill="#2E2E2E" stroke="#2E2E2E" stroke-width="0.18">13</text>
<text x="114.6" y="515.8" text-anchor="middle" dominant-baseline="central" font-family="Liberation Sans, sans-serif" font-size="6.6" font-weight="normal" fill="#2E2E2E" stroke="#2E2E2E" stroke-width="0.18">15</text>
<text x="124.0" y="515.8" text-anchor="middle" dominant-baseline="central" font-family="Liberation Sans, sans-serif" font-size="6.6" font-weight="normal" fill="#2E2E2E" stroke="#2E2E2E" stroke-width="0.18">17</text>
<text x="133.5" y="515.8" text-anchor="middle" dominant-baseline="central" font-family="Liberation Sans, sans-serif" font-size="6.6" font-weight="normal" fill="#2E2E2E" stroke="#2E2E2E" stroke-width="0.18">19</text>
<text x="142.9" y="515.8" text-anchor="middle" dominant-baseline="central" font-family="Liberation Sans, sans-serif" font-size="6.6" font-weight="normal" fill="#2E2E2E" stroke="#2E2E2E" stroke-width="0.18">21</text>
<text x="152.4" y="515.8" text-anchor="middle" dominant-baseline="central" font-family="Liberation Sans, sans-serif" font-size="6.6" font-weight="normal" fill="#2E2E2E" stroke="#2E2E2E" stroke-width="0.18">23</text>
<text x="161.8" y="515.8" text-anchor="middle" dominant-baseline="central" font-family="Liberation Sans, sans-serif" font-size="6.6" font-weight="normal" fill="#2E2E2E" stroke="#2E2E2E" stroke-width="0.18">25</text>
<text x="171.3" y="515.8" text-anchor="middle" dominant-baseline="central" font-family="Liberation Sans, sans-serif" font-size="6.6" font-weight="normal" fill="#2E2E2E" stroke="#2E2E2E" stroke-width="0.18">27</text>
<text x="180.7" y="515.8" text-anchor="middle" dominant-baseline="central" font-family="Liberation Sans, sans-serif" font-size="6.6" font-weight="normal" fill="#2E2E2E" stroke="#2E2E2E" stroke-width="0.18">29</text>
<text x="190.2" y="515.8" text-anchor="middle" dominant-baseline="central" font-family="Liberation Sans, sans-serif" font-size="6.6" font-weight="normal" fill="#2E2E2E" stroke="#2E2E2E" stroke-width="0.18">31</text>
<text x="199.6" y="515.8" text-anchor="middle" dominant-baseline="central" font-family="Liberation Sans, sans-serif" font-size="6.6" font-weight="normal" fill="#2E2E2E" stroke="#2E2E2E" stroke-width="0.18">33</text>
<text x="209.1" y="515.8" text-anchor="middle" dominant-baseline="central" font-family="Liberation Sans, sans-serif" font-size="6.6" font-weight="normal" fill="#2E2E2E" stroke="#2E2E2E" stroke-width="0.18">35</text>
<text x="218.5" y="515.8" text-anchor="middle" dominant-baseline="central" font-family="Liberation Sans, sans-serif" font-size="6.6" font-weight="normal" fill="#2E2E2E" stroke="#2E2E2E" stroke-width="0.18">37</text>
<text x="228.0" y="515.8" text-anchor="middle" dominant-baseline="central" font-family="Liberation Sans, sans-serif" font-size="6.6" font-weight="normal" fill="#2E2E2E" stroke="#2E2E2E" stroke-width="0.18">39</text>
<text x="237.4" y="515.8" text-anchor="middle" dominant-baseline="central" font-family="Liberation Sans, sans-serif" font-size="6.6" font-weight="normal" fill="#2E2E2E" stroke="#2E2E2E" stroke-width="0.18">41</text>
<text x="246.9" y="515.8" text-anchor="middle" dominant-baseline="central" font-family="Liberation Sans, sans-serif" font-size="6.6" font-weight="normal" fill="#2E2E2E" stroke="#2E2E2E" stroke-width="0.18">43</text>
<text x="256.3" y="515.8" text-anchor="middle" dominant-baseline="central" font-family="Liberation Sans, sans-serif" font-size="6.6" font-weight="normal" fill="#2E2E2E" stroke="#2E2E2E" stroke-width="0.18">45</text>
<text x="265.8" y="515.8" text-anchor="middle" dominant-baseline="central" font-family="Liberation Sans, sans-serif" font-size="6.6" font-weight="normal" fill="#2E2E2E" stroke="#2E2E2E" stroke-width="0.18">47</text>
<text x="275.2" y="515.8" text-anchor="middle" dominant-baseline="central" font-family="Liberation Sans, sans-serif" font-size="6.6" font-weight="normal" fill="#2E2E2E" stroke="#2E2E2E" stroke-width="0.18">49</text>
<text x="284.7" y="515.8" text-anchor="middle" dominant-baseline="central" font-family="Liberation Sans, sans-serif" font-size="6.6" font-weight="normal" fill="#2E2E2E" stroke="#2E2E2E" stroke-width="0.18">51</text>
<text x="294.2" y="515.8" text-anchor="middle" dominant-baseline="central" font-family="Liberation Sans, sans-serif" font-size="6.6" font-weight="normal" fill="#2E2E2E" stroke="#2E2E2E" stroke-width="0.18">53</text>
<text x="303.6" y="515.8" text-anchor="middle" dominant-baseline="central" font-family="Liberation Sans, sans-serif" font-size="6.6" font-weight="normal" fill="#2E2E2E" stroke="#2E2E2E" stroke-width="0.18">55</text>
<text x="313.1" y="515.8" text-anchor="middle" dominant-baseline="central" font-family="Liberation Sans, sans-serif" font-size="6.6" font-weight="normal" fill="#2E2E2E" stroke="#2E2E2E" stroke-width="0.18">57</text>
<text x="322.5" y="515.8" text-anchor="middle" dominant-baseline="central" font-family="Liberation Sans, sans-serif" font-size="6.6" font-weight="normal" fill="#2E2E2E" stroke="#2E2E2E" stroke-width="0.18">59</text>
<text x="332.0" y="515.8" text-anchor="middle" dominant-baseline="central" font-family="Liberation Sans, sans-serif" font-size="6.6" font-weight="normal" fill="#2E2E2E" stroke="#2E2E2E" stroke-width="0.18">61</text>
<text x="341.4" y="515.8" text-anchor="middle" dominant-baseline="central" font-family="Liberation Sans, sans-serif" font-size="6.6" font-weight="normal" fill="#2E2E2E" stroke="#2E2E2E" stroke-width="0.18">63</text>
<text x="350.9" y="515.8" text-anchor="middle" dominant-baseline="central" font-family="Liberation Sans, sans-serif" font-size="6.6" font-weight="normal" fill="#2E2E2E" stroke="#2E2E2E" stroke-width="0.18">65</text>
<text x="360.3" y="515.8" text-anchor="middle" dominant-baseline="central" font-family="Liberation Sans, sans-serif" font-size="6.6" font-weight="normal" fill="#2E2E2E" stroke="#2E2E2E" stroke-width="0.18">67</text>
<text x="369.8" y="515.8" text-anchor="middle" dominant-baseline="central" font-family="Liberation Sans, sans-serif" font-size="6.6" font-weight="normal" fill="#2E2E2E" stroke="#2E2E2E" stroke-width="0.18">69</text>
<text x="379.2" y="515.8" text-anchor="middle" dominant-baseline="central" font-family="Liberation Sans, sans-serif" font-size="6.6" font-weight="normal" fill="#2E2E2E" stroke="#2E2E2E" stroke-width="0.18">71</text>
<text x="388.7" y="515.8" text-anchor="middle" dominant-baseline="central" font-family="Liberation Sans, sans-serif" font-size="6.6" font-weight="normal" fill="#2E2E2E" stroke="#2E2E2E" stroke-width="0.18">73</text>
<text x="398.1" y="515.8" text-anchor="middle" dominant-baseline="central" font-family="Liberation Sans, sans-serif" font-size="6.6" font-weight="normal" fill="#2E2E2E" stroke="#2E2E2E" stroke-width="0.18">75</text>
<text x="407.6" y="515.8" text-anchor="middle" dominant-baseline="central" font-family="Liberation Sans, sans-serif" font-size="6.6" font-weight="normal" fill="#2E2E2E" stroke="#2E2E2E" stroke-width="0.18">77</text>
<text x="417.0" y="515.8" text-anchor="middle" dominant-baseline="central" font-family="Liberation Sans, sans-serif" font-size="6.6" font-weight="normal" fill="#2E2E2E" stroke="#2E2E2E" stroke-width="0.18">79</text>
<polyline points="48.4,309.2 53.1,301.9 57.9,310.5 62.6,305.0 67.3,312.1 72.0,367.2 76.8,295.6 81.5,324.5 86.2,330.2 90.9,307.3 95.7,313.0 100.4,312.4 105.1,321.0 109.8,310.5 114.6,319.0 119.3,303.5 124.0,309.6 128.7,304.5 133.5,315.9 138.2,321.0 142.9,325.3 147.6,329.2 152.4,312.1 157.1,296.5 161.8,326.4 166.6,304.5 171.3,285.6 176.0,315.5 180.7,288.1 185.5,323.3 190.2,315.2 194.9,275.3 199.6,279.6 204.4,292.2 209.1,294.0 213.8,293.1 218.5,281.4 223.3,276.5 228.0,284.0 232.7,291.8 237.4,300.2 242.2,289.2 246.9,297.6 251.6,308.0 256.3,292.5 261.1,295.3 265.8,306.6 270.5,324.5 275.2,327.7 280.0,319.7 284.7,306.7 289.4,327.7 294.2,317.5 298.9,312.5 303.6,300.1 308.3,301.5 313.1,288.2 317.8,303.4 322.5,306.3 327.2,304.3 332.0,277.0 336.7,300.2 341.4,302.7 346.1,315.7 350.9,313.9 355.6,284.3 360.3,303.4 365.0,324.1 369.8,325.9 374.5,342.4 379.2,334.3 383.9,313.9 388.7,292.3 393.4,344.5 398.1,334.5 402.8,307.0 407.6,327.2 412.3,334.8 417.0,337.1 421.8,315.2" fill="none" stroke="#9DB6E2" stroke-width="2.45" stroke-linejoin="round" stroke-linecap="round"/>
<rect x="46.60" y="307.40" width="3.60" height="3.60" fill="#2E6CC4"/>
<rect x="51.33" y="300.10" width="3.60" height="3.60" fill="#2E6CC4"/>
<rect x="56.05" y="308.70" width="3.60" height="3.60" fill="#2E6CC4"/>
<rect x="60.78" y="303.20" width="3.60" height="3.60" fill="#2E6CC4"/>
<rect x="65.50" y="310.30" width="3.60" height="3.60" fill="#2E6CC4"/>
<rect x="70.23" y="365.40" width="3.60" height="3.60" fill="#2E6CC4"/>
<rect x="74.96" y="293.80" width="3.60" height="3.60" fill="#2E6CC4"/>
<rect x="79.68" y="322.70" width="3.60" height="3.60" fill="#2E6CC4"/>
<rect x="84.41" y="328.40" width="3.60" height="3.60" fill="#2E6CC4"/>
<rect x="89.13" y="305.50" width="3.60" height="3.60" fill="#2E6CC4"/>
<rect x="93.86" y="311.20" width="3.60" height="3.60" fill="#2E6CC4"/>
<rect x="98.59" y="310.60" width="3.60" height="3.60" fill="#2E6CC4"/>
<rect x="103.31" y="319.20" width="3.60" height="3.60" fill="#2E6CC4"/>
<rect x="108.04" y="308.70" width="3.60" height="3.60" fill="#2E6CC4"/>
<rect x="112.76" y="317.20" width="3.60" height="3.60" fill="#2E6CC4"/>
<rect x="117.49" y="301.70" width="3.60" height="3.60" fill="#2E6CC4"/>
<rect x="122.22" y="307.80" width="3.60" height="3.60" fill="#2E6CC4"/>
<rect x="126.94" y="302.70" width="3.60" height="3.60" fill="#2E6CC4"/>
<rect x="131.67" y="314.10" width="3.60" height="3.60" fill="#2E6CC4"/>
<rect x="136.39" y="319.20" width="3.60" height="3.60" fill="#2E6CC4"/>
<rect x="141.12" y="323.50" width="3.60" height="3.60" fill="#2E6CC4"/>
<rect x="145.85" y="327.40" width="3.60" height="3.60" fill="#2E6CC4"/>
<rect x="150.57" y="310.30" width="3.60" height="3.60" fill="#2E6CC4"/>
<rect x="155.30" y="294.70" width="3.60" height="3.60" fill="#2E6CC4"/>
<rect x="160.02" y="324.60" width="3.60" height="3.60" fill="#2E6CC4"/>
<rect x="164.75" y="302.70" width="3.60" height="3.60" fill="#2E6CC4"/>
<rect x="169.48" y="283.80" width="3.60" height="3.60" fill="#2E6CC4"/>
<rect x="174.20" y="313.70" width="3.60" height="3.60" fill="#2E6CC4"/>
<rect x="178.93" y="286.30" width="3.60" height="3.60" fill="#2E6CC4"/>
<rect x="183.65" y="321.50" width="3.60" height="3.60" fill="#2E6CC4"/>
<rect x="188.38" y="313.40" width="3.60" height="3.60" fill="#2E6CC4"/>
<rect x="193.11" y="273.50" width="3.60" height="3.60" fill="#2E6CC4"/>
<rect x="197.83" y="277.80" width="3.60" height="3.60" fill="#2E6CC4"/>
<rect x="202.56" y="290.40" width="3.60" height="3.60" fill="#2E6CC4"/>
<rect x="207.28" y="292.20" width="3.60" height="3.60" fill="#2E6CC4"/>
<rect x="212.01" y="291.30" width="3.60" height="3.60" fill="#2E6CC4"/>
<rect x="216.74" y="279.60" width="3.60" height="3.60" fill="#2E6CC4"/>
<rect x="221.46" y="274.70" width="3.60" height="3.60" fill="#2E6CC4"/>
<rect x="226.19" y="282.20" width="3.60" height="3.60" fill="#2E6CC4"/>
<rect x="230.91" y="290.00" width="3.60" height="3.60" fill="#2E6CC4"/>
<rect x="235.64" y="298.40" width="3.60" height="3.60" fill="#2E6CC4"/>
<rect x="240.37" y="287.40" width="3.60" height="3.60" fill="#2E6CC4"/>
<rect x="245.09" y="295.80" width="3.60" height="3.60" fill="#2E6CC4"/>
<rect x="249.82" y="306.20" width="3.60" height="3.60" fill="#2E6CC4"/>
<rect x="254.54" y="290.70" width="3.60" height="3.60" fill="#2E6CC4"/>
<rect x="259.27" y="293.50" width="3.60" height="3.60" fill="#2E6CC4"/>
<rect x="264.00" y="304.80" width="3.60" height="3.60" fill="#2E6CC4"/>
<rect x="268.72" y="322.70" width="3.60" height="3.60" fill="#2E6CC4"/>
<rect x="273.45" y="325.90" width="3.60" height="3.60" fill="#2E6CC4"/>
<rect x="278.17" y="317.90" width="3.60" height="3.60" fill="#2E6CC4"/>
<rect x="282.90" y="304.90" width="3.60" height="3.60" fill="#2E6CC4"/>
<rect x="287.63" y="325.90" width="3.60" height="3.60" fill="#2E6CC4"/>
<rect x="292.35" y="315.70" width="3.60" height="3.60" fill="#2E6CC4"/>
<rect x="297.08" y="310.70" width="3.60" height="3.60" fill="#2E6CC4"/>
<rect x="301.80" y="298.30" width="3.60" height="3.60" fill="#2E6CC4"/>
<rect x="306.53" y="299.70" width="3.60" height="3.60" fill="#2E6CC4"/>
<rect x="311.26" y="286.40" width="3.60" height="3.60" fill="#2E6CC4"/>
<rect x="315.98" y="301.60" width="3.60" height="3.60" fill="#2E6CC4"/>
<rect x="320.71" y="304.50" width="3.60" height="3.60" fill="#2E6CC4"/>
<rect x="325.43" y="302.50" width="3.60" height="3.60" fill="#2E6CC4"/>
<rect x="330.16" y="275.20" width="3.60" height="3.60" fill="#2E6CC4"/>
<rect x="334.89" y="298.40" width="3.60" height="3.60" fill="#2E6CC4"/>
<rect x="339.61" y="300.90" width="3.60" height="3.60" fill="#2E6CC4"/>
<rect x="344.34" y="313.90" width="3.60" height="3.60" fill="#2E6CC4"/>
<rect x="349.06" y="312.10" width="3.60" height="3.60" fill="#2E6CC4"/>
<rect x="353.79" y="282.50" width="3.60" height="3.60" fill="#2E6CC4"/>
<rect x="358.52" y="301.60" width="3.60" height="3.60" fill="#2E6CC4"/>
<rect x="363.24" y="322.30" width="3.60" height="3.60" fill="#2E6CC4"/>
<rect x="367.97" y="324.10" width="3.60" height="3.60" fill="#2E6CC4"/>
<rect x="372.69" y="340.60" width="3.60" height="3.60" fill="#2E6CC4"/>
<rect x="377.42" y="332.50" width="3.60" height="3.60" fill="#2E6CC4"/>
<rect x="382.15" y="312.10" width="3.60" height="3.60" fill="#2E6CC4"/>
<rect x="386.87" y="290.50" width="3.60" height="3.60" fill="#2E6CC4"/>
<rect x="391.60" y="342.70" width="3.60" height="3.60" fill="#2E6CC4"/>
<rect x="396.32" y="332.70" width="3.60" height="3.60" fill="#2E6CC4"/>
<rect x="401.05" y="305.20" width="3.60" height="3.60" fill="#2E6CC4"/>
<rect x="405.78" y="325.40" width="3.60" height="3.60" fill="#2E6CC4"/>
<rect x="410.50" y="333.00" width="3.60" height="3.60" fill="#2E6CC4"/>
<rect x="415.23" y="335.30" width="3.60" height="3.60" fill="#2E6CC4"/>
<rect x="419.95" y="313.40" width="3.60" height="3.60" fill="#2E6CC4"/>
<polyline points="48.4,364.6 53.1,366.9 57.9,366.9 62.6,395.9 67.3,335.4 72.0,340.0 76.8,378.1 81.5,385.4 86.2,334.7 90.9,338.7 95.7,380.9 100.4,384.5 105.1,324.5 109.8,330.5 114.6,363.7 119.3,374.8 124.0,364.1 128.7,369.5 133.5,372.0 138.2,420.1 142.9,336.2 147.6,342.4 152.4,362.8 157.1,378.1 161.8,336.9 166.6,340.9 171.3,356.1 176.0,351.6 180.7,328.0 185.5,331.2 190.2,380.8 194.9,352.3 199.6,371.3 204.4,344.2 209.1,350.4 213.8,336.4 218.5,350.4 223.3,356.5 228.0,323.3 232.7,334.5 237.4,354.1 242.2,337.7 246.9,363.6 251.6,345.3 256.3,338.2 261.1,350.3 265.8,320.5 270.5,316.4 275.2,329.6 280.0,334.1 284.7,299.3 289.4,362.0 294.2,372.3 298.9,374.0 303.6,380.5 308.3,349.5 313.1,330.2 317.8,378.1 322.5,358.3 327.2,360.3 332.0,345.3 336.7,366.0 341.4,348.5 346.1,373.3 350.9,305.0 355.6,366.0 360.3,345.3 365.0,360.3 369.8,361.2 374.5,351.4 379.2,345.0 383.9,353.9 388.7,343.7 393.4,365.8 398.1,360.1 402.8,358.3 407.6,351.6 412.3,360.2 417.0,339.3 421.8,355.2" fill="none" stroke="#FF6EFF" stroke-width="2.45" stroke-linejoin="round" stroke-linecap="round"/>
<path d="M48.4 362.3L50.7 364.6L48.4 366.9L46.1 364.6Z" fill="#FF00FF"/>
<path d="M53.1 364.6L55.4 366.9L53.1 369.2L50.8 366.9Z" fill="#FF00FF"/>
<path d="M57.9 364.6L60.2 366.9L57.9 369.2L55.6 366.9Z" fill="#FF00FF"/>
<path d="M62.6 393.6L64.9 395.9L62.6 398.2L60.3 395.9Z" fill="#FF00FF"/>
<path d="M67.3 333.1L69.6 335.4L67.3 337.7L65.0 335.4Z" fill="#FF00FF"/>
<path d="M72.0 337.7L74.3 340.0L72.0 342.3L69.7 340.0Z" fill="#FF00FF"/>
<path d="M76.8 375.8L79.1 378.1L76.8 380.4L74.5 378.1Z" fill="#FF00FF"/>
<path d="M81.5 383.1L83.8 385.4L81.5 387.7L79.2 385.4Z" fill="#FF00FF"/>
<path d="M86.2 332.4L88.5 334.7L86.2 337.0L83.9 334.7Z" fill="#FF00FF"/>
<path d="M90.9 336.4L93.2 338.7L90.9 341.0L88.6 338.7Z" fill="#FF00FF"/>
<path d="M95.7 378.6L98.0 380.9L95.7 383.2L93.4 380.9Z" fill="#FF00FF"/>
<path d="M100.4 382.2L102.7 384.5L100.4 386.8L98.1 384.5Z" fill="#FF00FF"/>
<path d="M105.1 322.2L107.4 324.5L105.1 326.8L102.8 324.5Z" fill="#FF00FF"/>
<path d="M109.8 328.2L112.1 330.5L109.8 332.8L107.5 330.5Z" fill="#FF00FF"/>
<path d="M114.6 361.4L116.9 363.7L114.6 366.0L112.3 363.7Z" fill="#FF00FF"/>
<path d="M119.3 372.5L121.6 374.8L119.3 377.1L117.0 374.8Z" fill="#FF00FF"/>
<path d="M124.0 361.8L126.3 364.1L124.0 366.4L121.7 364.1Z" fill="#FF00FF"/>
<path d="M128.7 367.2L131.0 369.5L128.7 371.8L126.4 369.5Z" fill="#FF00FF"/>
<path d="M133.5 369.7L135.8 372.0L133.5 374.3L131.2 372.0Z" fill="#FF00FF"/>
<path d="M138.2 417.8L140.5 420.1L138.2 422.4L135.9 420.1Z" fill="#FF00FF"/>
<path d="M142.9 333.9L145.2 336.2L142.9 338.5L140.6 336.2Z" fill="#FF00FF"/>
<path d="M147.6 340.1L149.9 342.4L147.6 344.7L145.3 342.4Z" fill="#FF00FF"/>
<path d="M152.4 360.5L154.7 362.8L152.4 365.1L150.1 362.8Z" fill="#FF00FF"/>
<path d="M157.1 375.8L159.4 378.1L157.1 380.4L154.8 378.1Z" fill="#FF00FF"/>
<path d="M161.8 334.6L164.1 336.9L161.8 339.2L159.5 336.9Z" fill="#FF00FF"/>
<path d="M166.6 338.6L168.9 340.9L166.6 343.2L164.2 340.9Z" fill="#FF00FF"/>
<path d="M171.3 353.8L173.6 356.1L171.3 358.4L169.0 356.1Z" fill="#FF00FF"/>
<path d="M176.0 349.3L178.3 351.6L176.0 353.9L173.7 351.6Z" fill="#FF00FF"/>
<path d="M180.7 325.7L183.0 328.0L180.7 330.3L178.4 328.0Z" fill="#FF00FF"/>
<path d="M185.5 328.9L187.8 331.2L185.5 333.5L183.2 331.2Z" fill="#FF00FF"/>
<path d="M190.2 378.5L192.5 380.8L190.2 383.1L187.9 380.8Z" fill="#FF00FF"/>
<path d="M194.9 350.0L197.2 352.3L194.9 354.6L192.6 352.3Z" fill="#FF00FF"/>
<path d="M199.6 369.0L201.9 371.3L199.6 373.6L197.3 371.3Z" fill="#FF00FF"/>
<path d="M204.4 341.9L206.7 344.2L204.4 346.5L202.1 344.2Z" fill="#FF00FF"/>
<path d="M209.1 348.1L211.4 350.4L209.1 352.7L206.8 350.4Z" fill="#FF00FF"/>
<path d="M213.8 334.1L216.1 336.4L213.8 338.7L211.5 336.4Z" fill="#FF00FF"/>
<path d="M218.5 348.1L220.8 350.4L218.5 352.7L216.2 350.4Z" fill="#FF00FF"/>
<path d="M223.3 354.2L225.6 356.5L223.3 358.8L221.0 356.5Z" fill="#FF00FF"/>
<path d="M228.0 321.0L230.3 323.3L228.0 325.6L225.7 323.3Z" fill="#FF00FF"/>
<path d="M232.7 332.2L235.0 334.5L232.7 336.8L230.4 334.5Z" fill="#FF00FF"/>
<path d="M237.4 351.8L239.7 354.1L237.4 356.4L235.1 354.1Z" fill="#FF00FF"/>
<path d="M242.2 335.4L244.5 337.7L242.2 340.0L239.9 337.7Z" fill="#FF00FF"/>
<path d="M246.9 361.3L249.2 363.6L246.9 365.9L244.6 363.6Z" fill="#FF00FF"/>
<path d="M251.6 343.0L253.9 345.3L251.6 347.6L249.3 345.3Z" fill="#FF00FF"/>
<path d="M256.3 335.9L258.6 338.2L256.3 340.5L254.0 338.2Z" fill="#FF00FF"/>
<path d="M261.1 348.0L263.4 350.3L261.1 352.6L258.8 350.3Z" fill="#FF00FF"/>
<path d="M265.8 318.2L268.1 320.5L265.8 322.8L263.5 320.5Z" fill="#FF00FF"/>
<path d="M270.5 314.1L272.8 316.4L270.5 318.7L268.2 316.4Z" fill="#FF00FF"/>
<path d="M275.2 327.3L277.5 329.6L275.2 331.9L272.9 329.6Z" fill="#FF00FF"/>
<path d="M280.0 331.8L282.3 334.1L280.0 336.4L277.7 334.1Z" fill="#FF00FF"/>
<path d="M284.7 297.0L287.0 299.3L284.7 301.6L282.4 299.3Z" fill="#FF00FF"/>
<path d="M289.4 359.7L291.7 362.0L289.4 364.3L287.1 362.0Z" fill="#FF00FF"/>
<path d="M294.2 370.0L296.5 372.3L294.2 374.6L291.9 372.3Z" fill="#FF00FF"/>
<path d="M298.9 371.7L301.2 374.0L298.9 376.3L296.6 374.0Z" fill="#FF00FF"/>
<path d="M303.6 378.2L305.9 380.5L303.6 382.8L301.3 380.5Z" fill="#FF00FF"/>
<path d="M308.3 347.2L310.6 349.5L308.3 351.8L306.0 349.5Z" fill="#FF00FF"/>
<path d="M313.1 327.9L315.4 330.2L313.1 332.5L310.8 330.2Z" fill="#FF00FF"/>
<path d="M317.8 375.8L320.1 378.1L317.8 380.4L315.5 378.1Z" fill="#FF00FF"/>
<path d="M322.5 356.0L324.8 358.3L322.5 360.6L320.2 358.3Z" fill="#FF00FF"/>
<path d="M327.2 358.0L329.5 360.3L327.2 362.6L324.9 360.3Z" fill="#FF00FF"/>
<path d="M332.0 343.0L334.3 345.3L332.0 347.6L329.7 345.3Z" fill="#FF00FF"/>
<path d="M336.7 363.7L339.0 366.0L336.7 368.3L334.4 366.0Z" fill="#FF00FF"/>
<path d="M341.4 346.2L343.7 348.5L341.4 350.8L339.1 348.5Z" fill="#FF00FF"/>
<path d="M346.1 371.0L348.4 373.3L346.1 375.6L343.8 373.3Z" fill="#FF00FF"/>
<path d="M350.9 302.7L353.2 305.0L350.9 307.3L348.6 305.0Z" fill="#FF00FF"/>
<path d="M355.6 363.7L357.9 366.0L355.6 368.3L353.3 366.0Z" fill="#FF00FF"/>
<path d="M360.3 343.0L362.6 345.3L360.3 347.6L358.0 345.3Z" fill="#FF00FF"/>
<path d="M365.0 358.0L367.3 360.3L365.0 362.6L362.7 360.3Z" fill="#FF00FF"/>
<path d="M369.8 358.9L372.1 361.2L369.8 363.5L367.5 361.2Z" fill="#FF00FF"/>
<path d="M374.5 349.1L376.8 351.4L374.5 353.7L372.2 351.4Z" fill="#FF00FF"/>
<path d="M379.2 342.7L381.5 345.0L379.2 347.3L376.9 345.0Z" fill="#FF00FF"/>
<path d="M383.9 351.6L386.2 353.9L383.9 356.2L381.6 353.9Z" fill="#FF00FF"/>
<path d="M388.7 341.4L391.0 343.7L388.7 346.0L386.4 343.7Z" fill="#FF00FF"/>
<path d="M393.4 363.5L395.7 365.8L393.4 368.1L391.1 365.8Z" fill="#FF00FF"/>
<path d="M398.1 357.8L400.4 360.1L398.1 362.4L395.8 360.1Z" fill="#FF00FF"/>
<path d="M402.8 356.0L405.1 358.3L402.8 360.6L400.5 358.3Z" fill="#FF00FF"/>
<path d="M407.6 349.3L409.9 351.6L407.6 353.9L405.3 351.6Z" fill="#FF00FF"/>
<path d="M412.3 357.9L414.6 360.2L412.3 362.5L410.0 360.2Z" fill="#FF00FF"/>
<path d="M417.0 337.0L419.3 339.3L417.0 341.6L414.7 339.3Z" fill="#FF00FF"/>
<path d="M421.8 352.9L424.1 355.2L421.8 357.5L419.5 355.2Z" fill="#FF00FF"/>
<polyline points="48.4,489.2 53.1,493.7 57.9,496.3 62.6,494.3 67.3,499.1 72.0,490.4 76.8,494.0 81.5,501.6 86.2,483.2 90.9,485.3 95.7,487.2 100.4,488.8 105.1,491.7 109.8,488.4 114.6,489.5 119.3,488.2 124.0,490.1 128.7,479.3 133.5,482.4 138.2,483.3 142.9,481.0 147.6,484.2 152.4,482.5 157.1,484.2 161.8,491.2 166.6,494.4 171.3,467.6 176.0,460.2 180.7,469.3 185.5,468.9 190.2,478.5 194.9,475.3 199.6,479.1 204.4,458.3 209.1,460.4 213.8,463.8 218.5,465.1 223.3,470.3 228.0,480.6 232.7,484.6 237.4,452.8 242.2,472.5 246.9,468.1 251.6,481.8 256.3,467.5 261.1,472.5 265.8,469.0 270.5,469.3 275.2,472.0 280.0,474.8 284.7,466.3 289.4,471.7 294.2,461.2 298.9,457.4 303.6,467.9 308.3,460.7 313.1,464.2 317.8,460.4 322.5,465.5 327.2,462.2 332.0,448.2 336.7,464.5 341.4,459.1 346.1,462.5 350.9,457.5 355.6,453.0 360.3,462.5 365.0,451.1 369.8,445.2 374.5,451.1 379.2,445.7 383.9,448.4 388.7,454.2 393.4,452.9 398.1,452.9 402.8,448.8 407.6,447.5 412.3,448.4 417.0,451.1 421.8,447.0" fill="none" stroke="#8A8A8A" stroke-width="2.82" stroke-linejoin="round" stroke-linecap="round"/>
<circle cx="48.4" cy="489.2" r="1.95" fill="#000000"/>
<circle cx="53.1" cy="493.7" r="1.95" fill="#000000"/>
<circle cx="57.9" cy="496.3" r="1.95" fill="#000000"/>
<circle cx="62.6" cy="494.3" r="1.95" fill="#000000"/>
<circle cx="67.3" cy="499.1" r="1.95" fill="#000000"/>
<circle cx="72.0" cy="490.4" r="1.95" fill="#000000"/>
<circle cx="76.8" cy="494.0" r="1.95" fill="#000000"/>
<circle cx="81.5" cy="501.6" r="1.95" fill="#000000"/>
<circle cx="86.2" cy="483.2" r="1.95" fill="#000000"/>
<circle cx="90.9" cy="485.3" r="1.95" fill="#000000"/>
<circle cx="95.7" cy="487.2" r="1.95" fill="#000000"/>
<circle cx="100.4" cy="488.8" r="1.95" fill="#000000"/>
<circle cx="105.1" cy="491.7" r="1.95" fill="#000000"/>
<circle cx="109.8" cy="488.4" r="1.95" fill="#000000"/>
<circle cx="114.6" cy="489.5" r="1.95" fill="#000000"/>
<circle cx="119.3" cy="488.2" r="1.95" fill="#000000"/>
<circle cx="124.0" cy="490.1" r="1.95" fill="#000000"/>
<circle cx="128.7" cy="479.3" r="1.95" fill="#000000"/>
<circle cx="133.5" cy="482.4" r="1.95" fill="#000000"/>
<circle cx="138.2" cy="483.3" r="1.95" fill="#000000"/>
<circle cx="142.9" cy="481.0" r="1.95" fill="#000000"/>
<circle cx="147.6" cy="484.2" r="1.95" fill="#000000"/>
<circle cx="152.4" cy="482.5" r="1.95" fill="#000000"/>
<circle cx="157.1" cy="484.2" r="1.95" fill="#000000"/>
<circle cx="161.8" cy="491.2" r="1.95" fill="#000000"/>
<circle cx="166.6" cy="494.4" r="1.95" fill="#000000"/>
<circle cx="171.3" cy="467.6" r="1.95" fill="#000000"/>
<circle cx="176.0" cy="460.2" r="1.95" fill="#000000"/>
<circle cx="180.7" cy="469.3" r="1.95" fill="#000000"/>
<circle cx="185.5" cy="468.9" r="1.95" fill="#000000"/>
<circle cx="190.2" cy="478.5" r="1.95" fill="#000000"/>
<circle cx="194.9" cy="475.3" r="1.95" fill="#000000"/>
<circle cx="199.6" cy="479.1" r="1.95" fill="#000000"/>
<circle cx="204.4" cy="458.3" r="1.95" fill="#000000"/>
<circle cx="209.1" cy="460.4" r="1.95" fill="#000000"/>
<circle cx="213.8" cy="463.8" r="1.95" fill="#000000"/>
<circle cx="218.5" cy="465.1" r="1.95" fill="#000000"/>
<circle cx="223.3" cy="470.3" r="1.95" fill="#000000"/>
<circle cx="228.0" cy="480.6" r="1.95" fill="#000000"/>
<circle cx="232.7" cy="484.6" r="1.95" fill="#000000"/>
<circle cx="237.4" cy="452.8" r="1.95" fill="#000000"/>
<circle cx="242.2" cy="472.5" r="1.95" fill="#000000"/>
<circle cx="246.9" cy="468.1" r="1.95" fill="#000000"/>
<circle cx="251.6" cy="481.8" r="1.95" fill="#000000"/>
<circle cx="256.3" cy="467.5" r="1.95" fill="#000000"/>
<circle cx="261.1" cy="472.5" r="1.95" fill="#000000"/>
<circle cx="265.8" cy="469.0" r="1.95" fill="#000000"/>
<circle cx="270.5" cy="469.3" r="1.95" fill="#000000"/>
<circle cx="275.2" cy="472.0" r="1.95" fill="#000000"/>
<circle cx="280.0" cy="474.8" r="1.95" fill="#000000"/>
<circle cx="284.7" cy="466.3" r="1.95" fill="#000000"/>
<circle cx="289.4" cy="471.7" r="1.95" fill="#000000"/>
<circle cx="294.2" cy="461.2" r="1.95" fill="#000000"/>
<circle cx="298.9" cy="457.4" r="1.95" fill="#000000"/>
<circle cx="303.6" cy="467.9" r="1.95" fill="#000000"/>
<circle cx="308.3" cy="460.7" r="1.95" fill="#000000"/>
<circle cx="313.1" cy="464.2" r="1.95" fill="#000000"/>
<circle cx="317.8" cy="460.4" r="1.95" fill="#000000"/>
<circle cx="322.5" cy="465.5" r="1.95" fill="#000000"/>
<circle cx="327.2" cy="462.2" r="1.95" fill="#000000"/>
<circle cx="332.0" cy="448.2" r="1.95" fill="#000000"/>
<circle cx="336.7" cy="464.5" r="1.95" fill="#000000"/>
<circle cx="341.4" cy="459.1" r="1.95" fill="#000000"/>
<circle cx="346.1" cy="462.5" r="1.95" fill="#000000"/>
<circle cx="350.9" cy="457.5" r="1.95" fill="#000000"/>
<circle cx="355.6" cy="453.0" r="1.95" fill="#000000"/>
<circle cx="360.3" cy="462.5" r="1.95" fill="#000000"/>
<circle cx="365.0" cy="451.1" r="1.95" fill="#000000"/>
<circle cx="369.8" cy="445.2" r="1.95" fill="#000000"/>
<circle cx="374.5" cy="451.1" r="1.95" fill="#000000"/>
<circle cx="379.2" cy="445.7" r="1.95" fill="#000000"/>
<circle cx="383.9" cy="448.4" r="1.95" fill="#000000"/>
<circle cx="388.7" cy="454.2" r="1.95" fill="#000000"/>
<circle cx="393.4" cy="452.9" r="1.95" fill="#000000"/>
<circle cx="398.1" cy="452.9" r="1.95" fill="#000000"/>
<circle cx="402.8" cy="448.8" r="1.95" fill="#000000"/>
<circle cx="407.6" cy="447.5" r="1.95" fill="#000000"/>
<circle cx="412.3" cy="448.4" r="1.95" fill="#000000"/>
<circle cx="417.0" cy="451.1" r="1.95" fill="#000000"/>
<circle cx="421.8" cy="447.0" r="1.95" fill="#000000"/>
<polyline points="48.4,459.4 53.1,461.9 57.9,461.2 62.6,465.0 67.3,456.1 72.0,458.1 76.8,466.6 81.5,467.0 86.2,441.5 90.9,448.6 95.7,451.0 100.4,454.5 105.1,457.9 109.8,448.5 114.6,454.8 119.3,459.9 124.0,454.5 128.7,455.3 133.5,455.7 138.2,444.6 142.9,448.0 147.6,448.5 152.4,442.2 157.1,449.8 161.8,449.2 166.6,450.2 171.3,401.6 176.0,451.1 180.7,440.9 185.5,417.2 190.2,389.3 194.9,440.0 199.6,405.0 204.4,450.0 209.1,449.0 213.8,436.2 218.5,412.0 223.3,420.2 228.0,409.2 232.7,442.7 237.4,415.5 242.2,414.9 246.9,431.5 251.6,440.0 256.3,430.8 261.1,423.0 265.8,423.2 270.5,398.4 275.2,437.8 280.0,416.8 284.7,415.5 289.4,414.5 294.2,392.9 298.9,407.3 303.6,407.7 308.3,414.8 313.1,395.6 317.8,405.5 322.5,417.5 327.2,406.1 332.0,409.9 336.7,409.0 341.4,400.6 346.1,413.1 350.9,417.2 355.6,424.4 360.3,415.0 365.0,426.5 369.8,429.9 374.5,427.3 379.2,417.9 383.9,393.2 388.7,405.0 393.4,421.0 398.1,418.0 402.8,411.7 407.6,396.4 412.3,365.6 417.0,378.0 421.8,390.8" fill="none" stroke="#62C99A" stroke-width="2.45" stroke-linejoin="round" stroke-linecap="round"/>
<path d="M48.4 457.0L50.7 461.2L46.1 461.2Z" fill="#00C800"/>
<path d="M53.1 459.5L55.4 463.7L50.8 463.7Z" fill="#00C800"/>
<path d="M57.9 458.8L60.1 463.0L55.6 463.0Z" fill="#00C800"/>
<path d="M62.6 462.6L64.9 466.8L60.3 466.8Z" fill="#00C800"/>
<path d="M67.3 453.7L69.6 457.9L65.0 457.9Z" fill="#00C800"/>
<path d="M72.0 455.7L74.3 459.9L69.8 459.9Z" fill="#00C800"/>
<path d="M76.8 464.2L79.0 468.4L74.5 468.4Z" fill="#00C800"/>
<path d="M81.5 464.6L83.8 468.8L79.2 468.8Z" fill="#00C800"/>
<path d="M86.2 439.1L88.5 443.3L83.9 443.3Z" fill="#00C800"/>
<path d="M90.9 446.2L93.2 450.4L88.7 450.4Z" fill="#00C800"/>
<path d="M95.7 448.6L97.9 452.8L93.4 452.8Z" fill="#00C800"/>
<path d="M100.4 452.1L102.7 456.3L98.1 456.3Z" fill="#00C800"/>
<path d="M105.1 455.5L107.4 459.7L102.8 459.7Z" fill="#00C800"/>
<path d="M109.8 446.1L112.1 450.3L107.6 450.3Z" fill="#00C800"/>
<path d="M114.6 452.4L116.8 456.6L112.3 456.6Z" fill="#00C800"/>
<path d="M119.3 457.5L121.6 461.7L117.0 461.7Z" fill="#00C800"/>
<path d="M124.0 452.1L126.3 456.3L121.7 456.3Z" fill="#00C800"/>
<path d="M128.7 452.9L131.0 457.1L126.5 457.1Z" fill="#00C800"/>
<path d="M133.5 453.3L135.7 457.5L131.2 457.5Z" fill="#00C800"/>
<path d="M138.2 442.2L140.5 446.4L135.9 446.4Z" fill="#00C800"/>
<path d="M142.9 445.6L145.2 449.8L140.6 449.8Z" fill="#00C800"/>
<path d="M147.6 446.1L149.9 450.3L145.4 450.3Z" fill="#00C800"/>
<path d="M152.4 439.8L154.7 444.0L150.1 444.0Z" fill="#00C800"/>
<path d="M157.1 447.4L159.4 451.6L154.8 451.6Z" fill="#00C800"/>
<path d="M161.8 446.8L164.1 451.0L159.5 451.0Z" fill="#00C800"/>
<path d="M166.6 447.8L168.8 452.0L164.3 452.0Z" fill="#00C800"/>
<path d="M171.3 399.2L173.6 403.4L169.0 403.4Z" fill="#00C800"/>
<path d="M176.0 448.7L178.3 452.9L173.7 452.9Z" fill="#00C800"/>
<path d="M180.7 438.5L183.0 442.7L178.4 442.7Z" fill="#00C800"/>
<path d="M185.5 414.8L187.7 419.0L183.2 419.0Z" fill="#00C800"/>
<path d="M190.2 386.9L192.5 391.1L187.9 391.1Z" fill="#00C800"/>
<path d="M194.9 437.6L197.2 441.8L192.6 441.8Z" fill="#00C800"/>
<path d="M199.6 402.6L201.9 406.8L197.4 406.8Z" fill="#00C800"/>
<path d="M204.4 447.6L206.6 451.8L202.1 451.8Z" fill="#00C800"/>
<path d="M209.1 446.6L211.4 450.8L206.8 450.8Z" fill="#00C800"/>
<path d="M213.8 433.8L216.1 438.0L211.5 438.0Z" fill="#00C800"/>
<path d="M218.5 409.6L220.8 413.8L216.3 413.8Z" fill="#00C800"/>
<path d="M223.3 417.8L225.5 422.0L221.0 422.0Z" fill="#00C800"/>
<path d="M228.0 406.8L230.3 411.0L225.7 411.0Z" fill="#00C800"/>
<path d="M232.7 440.3L235.0 444.5L230.4 444.5Z" fill="#00C800"/>
<path d="M237.4 413.1L239.7 417.3L235.2 417.3Z" fill="#00C800"/>
<path d="M242.2 412.5L244.4 416.7L239.9 416.7Z" fill="#00C800"/>
<path d="M246.9 429.1L249.2 433.3L244.6 433.3Z" fill="#00C800"/>
<path d="M251.6 437.6L253.9 441.8L249.3 441.8Z" fill="#00C800"/>
<path d="M256.3 428.4L258.6 432.6L254.1 432.6Z" fill="#00C800"/>
<path d="M261.1 420.6L263.3 424.8L258.8 424.8Z" fill="#00C800"/>
<path d="M265.8 420.8L268.1 425.0L263.5 425.0Z" fill="#00C800"/>
<path d="M270.5 396.0L272.8 400.2L268.2 400.2Z" fill="#00C800"/>
<path d="M275.2 435.4L277.5 439.6L273.0 439.6Z" fill="#00C800"/>
<path d="M280.0 414.4L282.3 418.6L277.7 418.6Z" fill="#00C800"/>
<path d="M284.7 413.1L287.0 417.3L282.4 417.3Z" fill="#00C800"/>
<path d="M289.4 412.1L291.7 416.3L287.1 416.3Z" fill="#00C800"/>
<path d="M294.2 390.5L296.4 394.7L291.9 394.7Z" fill="#00C800"/>
<path d="M298.9 404.9L301.2 409.1L296.6 409.1Z" fill="#00C800"/>
<path d="M303.6 405.3L305.9 409.5L301.3 409.5Z" fill="#00C800"/>
<path d="M308.3 412.4L310.6 416.6L306.1 416.6Z" fill="#00C800"/>
<path d="M313.1 393.2L315.3 397.4L310.8 397.4Z" fill="#00C800"/>
<path d="M317.8 403.1L320.1 407.3L315.5 407.3Z" fill="#00C800"/>
<path d="M322.5 415.1L324.8 419.3L320.2 419.3Z" fill="#00C800"/>
<path d="M327.2 403.7L329.5 407.9L325.0 407.9Z" fill="#00C800"/>
<path d="M332.0 407.5L334.2 411.7L329.7 411.7Z" fill="#00C800"/>
<path d="M336.7 406.6L339.0 410.8L334.4 410.8Z" fill="#00C800"/>
<path d="M341.4 398.2L343.7 402.4L339.1 402.4Z" fill="#00C800"/>
<path d="M346.1 410.7L348.4 414.9L343.9 414.9Z" fill="#00C800"/>
<path d="M350.9 414.8L353.1 419.0L348.6 419.0Z" fill="#00C800"/>
<path d="M355.6 422.0L357.9 426.2L353.3 426.2Z" fill="#00C800"/>
<path d="M360.3 412.6L362.6 416.8L358.0 416.8Z" fill="#00C800"/>
<path d="M365.0 424.1L367.3 428.3L362.8 428.3Z" fill="#00C800"/>
<path d="M369.8 427.5L372.0 431.7L367.5 431.7Z" fill="#00C800"/>
<path d="M374.5 424.9L376.8 429.1L372.2 429.1Z" fill="#00C800"/>
<path d="M379.2 415.5L381.5 419.7L376.9 419.7Z" fill="#00C800"/>
<path d="M383.9 390.8L386.2 395.0L381.7 395.0Z" fill="#00C800"/>
<path d="M388.7 402.6L391.0 406.8L386.4 406.8Z" fill="#00C800"/>
<path d="M393.4 418.6L395.7 422.8L391.1 422.8Z" fill="#00C800"/>
<path d="M398.1 415.6L400.4 419.8L395.8 419.8Z" fill="#00C800"/>
<path d="M402.8 409.3L405.1 413.5L400.6 413.5Z" fill="#00C800"/>
<path d="M407.6 394.0L409.9 398.2L405.3 398.2Z" fill="#00C800"/>
<path d="M412.3 363.2L414.6 367.4L410.0 367.4Z" fill="#00C800"/>
<path d="M417.0 375.6L419.3 379.8L414.7 379.8Z" fill="#00C800"/>
<path d="M421.8 388.4L424.0 392.6L419.5 392.6Z" fill="#00C800"/>
<polyline points="48.4,407.7 53.1,419.4 57.9,456.5 62.6,429.8 67.3,392.8 72.0,407.9 76.8,407.7 81.5,440.0 86.2,430.2 90.9,430.5 95.7,403.2 100.4,415.6 105.1,431.9 109.8,406.7 114.6,429.6 119.3,402.3 124.0,409.0 128.7,403.2 133.5,394.3 138.2,384.6 142.9,385.7 147.6,367.2 152.4,385.5 157.1,404.4 161.8,453.3 166.6,407.0 171.3,397.2 176.0,427.3 180.7,381.5 185.5,410.0 190.2,425.0 194.9,374.3 199.6,405.6 204.4,421.0 209.1,436.8 213.8,412.0 218.5,410.6 223.3,418.1 228.0,394.2 232.7,416.2 237.4,401.3 242.2,407.7 246.9,374.5 251.6,398.7 256.3,375.1 261.1,399.3 265.8,404.3 270.5,402.0 275.2,412.7 280.0,367.8 284.7,382.1 289.4,397.2 294.2,363.3 298.9,362.0 303.6,437.2 308.3,369.0 313.1,377.0 317.8,388.0 322.5,397.4 327.2,376.5 332.0,383.2 336.7,371.4 341.4,377.3 346.1,378.6 350.9,383.2 355.6,418.2 360.3,427.7 365.0,422.6 369.8,401.6 374.5,413.7 379.2,426.1 383.9,415.7 388.7,399.9 393.4,397.0 398.1,377.2 402.8,382.3 407.6,399.6 412.3,385.4 417.0,416.7" fill="none" stroke="#E06C6C" stroke-width="2.45" stroke-linejoin="round" stroke-linecap="round"/>
<rect x="46.60" y="405.90" width="3.60" height="3.60" fill="#FF0000"/>
<rect x="51.33" y="417.60" width="3.60" height="3.60" fill="#FF0000"/>
<rect x="56.05" y="454.70" width="3.60" height="3.60" fill="#FF0000"/>
<rect x="60.78" y="428.00" width="3.60" height="3.60" fill="#FF0000"/>
<rect x="65.50" y="391.00" width="3.60" height="3.60" fill="#FF0000"/>
<rect x="70.23" y="406.10" width="3.60" height="3.60" fill="#FF0000"/>
<rect x="74.96" y="405.90" width="3.60" height="3.60" fill="#FF0000"/>
<rect x="79.68" y="438.20" width="3.60" height="3.60" fill="#FF0000"/>
<rect x="84.41" y="428.40" width="3.60" height="3.60" fill="#FF0000"/>
<rect x="89.13" y="428.70" width="3.60" height="3.60" fill="#FF0000"/>
<rect x="93.86" y="401.40" width="3.60" height="3.60" fill="#FF0000"/>
<rect x="98.59" y="413.80" width="3.60" height="3.60" fill="#FF0000"/>
<rect x="103.31" y="430.10" width="3.60" height="3.60" fill="#FF0000"/>
<rect x="108.04" y="404.90" width="3.60" height="3.60" fill="#FF0000"/>
<rect x="112.76" y="427.80" width="3.60" height="3.60" fill="#FF0000"/>
<rect x="117.49" y="400.50" width="3.60" height="3.60" fill="#FF0000"/>
<rect x="122.22" y="407.20" width="3.60" height="3.60" fill="#FF0000"/>
<rect x="126.94" y="401.40" width="3.60" height="3.60" fill="#FF0000"/>
<rect x="131.67" y="392.50" width="3.60" height="3.60" fill="#FF0000"/>
<rect x="136.39" y="382.80" width="3.60" height="3.60" fill="#FF0000"/>
<rect x="141.12" y="383.90" width="3.60" height="3.60" fill="#FF0000"/>
<rect x="145.85" y="365.40" width="3.60" height="3.60" fill="#FF0000"/>
<rect x="150.57" y="383.70" width="3.60" height="3.60" fill="#FF0000"/>
<rect x="155.30" y="402.60" width="3.60" height="3.60" fill="#FF0000"/>
<rect x="160.02" y="451.50" width="3.60" height="3.60" fill="#FF0000"/>
<rect x="164.75" y="405.20" width="3.60" height="3.60" fill="#FF0000"/>
<rect x="169.48" y="395.40" width="3.60" height="3.60" fill="#FF0000"/>
<rect x="174.20" y="425.50" width="3.60" height="3.60" fill="#FF0000"/>
<rect x="178.93" y="379.70" width="3.60" height="3.60" fill="#FF0000"/>
<rect x="183.65" y="408.20" width="3.60" height="3.60" fill="#FF0000"/>
<rect x="188.38" y="423.20" width="3.60" height="3.60" fill="#FF0000"/>
<rect x="193.11" y="372.50" width="3.60" height="3.60" fill="#FF0000"/>
<rect x="197.83" y="403.80" width="3.60" height="3.60" fill="#FF0000"/>
<rect x="202.56" y="419.20" width="3.60" height="3.60" fill="#FF0000"/>
<rect x="207.28" y="435.00" width="3.60" height="3.60" fill="#FF0000"/>
<rect x="212.01" y="410.20" width="3.60" height="3.60" fill="#FF0000"/>
<rect x="216.74" y="408.80" width="3.60" height="3.60" fill="#FF0000"/>
<rect x="221.46" y="416.30" width="3.60" height="3.60" fill="#FF0000"/>
<rect x="226.19" y="392.40" width="3.60" height="3.60" fill="#FF0000"/>
<rect x="230.91" y="414.40" width="3.60" height="3.60" fill="#FF0000"/>
<rect x="235.64" y="399.50" width="3.60" height="3.60" fill="#FF0000"/>
<rect x="240.37" y="405.90" width="3.60" height="3.60" fill="#FF0000"/>
<rect x="245.09" y="372.70" width="3.60" height="3.60" fill="#FF0000"/>
<rect x="249.82" y="396.90" width="3.60" height="3.60" fill="#FF0000"/>
<rect x="254.54" y="373.30" width="3.60" height="3.60" fill="#FF0000"/>
<rect x="259.27" y="397.50" width="3.60" height="3.60" fill="#FF0000"/>
<rect x="264.00" y="402.50" width="3.60" height="3.60" fill="#FF0000"/>
<rect x="268.72" y="400.20" width="3.60" height="3.60" fill="#FF0000"/>
<rect x="273.45" y="410.90" width="3.60" height="3.60" fill="#FF0000"/>
<rect x="278.17" y="366.00" width="3.60" height="3.60" fill="#FF0000"/>
<rect x="282.90" y="380.30" width="3.60" height="3.60" fill="#FF0000"/>
<rect x="287.63" y="395.40" width="3.60" height="3.60" fill="#FF0000"/>
<rect x="292.35" y="361.50" width="3.60" height="3.60" fill="#FF0000"/>
<rect x="297.08" y="360.20" width="3.60" height="3.60" fill="#FF0000"/>
<rect x="301.80" y="435.40" width="3.60" height="3.60" fill="#FF0000"/>
<rect x="306.53" y="367.20" width="3.60" height="3.60" fill="#FF0000"/>
<rect x="311.26" y="375.20" width="3.60" height="3.60" fill="#FF0000"/>
<rect x="315.98" y="386.20" width="3.60" height="3.60" fill="#FF0000"/>
<rect x="320.71" y="395.60" width="3.60" height="3.60" fill="#FF0000"/>
<rect x="325.43" y="374.70" width="3.60" height="3.60" fill="#FF0000"/>
<rect x="330.16" y="381.40" width="3.60" height="3.60" fill="#FF0000"/>
<rect x="334.89" y="369.60" width="3.60" height="3.60" fill="#FF0000"/>
<rect x="339.61" y="375.50" width="3.60" height="3.60" fill="#FF0000"/>
<rect x="344.34" y="376.80" width="3.60" height="3.60" fill="#FF0000"/>
<rect x="349.06" y="381.40" width="3.60" height="3.60" fill="#FF0000"/>
<rect x="353.79" y="416.40" width="3.60" height="3.60" fill="#FF0000"/>
<rect x="358.52" y="425.90" width="3.60" height="3.60" fill="#FF0000"/>
<rect x="363.24" y="420.80" width="3.60" height="3.60" fill="#FF0000"/>
<rect x="367.97" y="399.80" width="3.60" height="3.60" fill="#FF0000"/>
<rect x="372.69" y="411.90" width="3.60" height="3.60" fill="#FF0000"/>
<rect x="377.42" y="424.30" width="3.60" height="3.60" fill="#FF0000"/>
<rect x="382.15" y="413.90" width="3.60" height="3.60" fill="#FF0000"/>
<rect x="386.87" y="398.10" width="3.60" height="3.60" fill="#FF0000"/>
<rect x="391.60" y="395.20" width="3.60" height="3.60" fill="#FF0000"/>
<rect x="396.32" y="375.40" width="3.60" height="3.60" fill="#FF0000"/>
<rect x="401.05" y="380.50" width="3.60" height="3.60" fill="#FF0000"/>
<rect x="405.78" y="397.80" width="3.60" height="3.60" fill="#FF0000"/>
<rect x="410.50" y="383.60" width="3.60" height="3.60" fill="#FF0000"/>
<rect x="415.23" y="414.90" width="3.60" height="3.60" fill="#FF0000"/>
<polyline points="48.4,419.4 53.1,426.0 57.9,399.6 62.6,411.5 67.3,396.7 72.0,420.0 76.8,401.3 81.5,419.1 86.2,399.3 90.9,405.2 95.7,374.3 100.4,388.8 105.1,409.5 109.8,401.4 114.6,410.5 119.3,379.0 124.0,389.9 128.7,385.1 133.5,406.7 138.2,389.5 142.9,401.9 147.6,404.8 152.4,404.8 157.1,389.5 161.8,403.9 166.6,387.9 171.3,393.7 176.0,410.8 180.7,403.2 185.5,407.0 190.2,413.6 194.9,410.8 199.6,419.7 204.4,427.2 209.1,429.0 213.8,402.8 218.5,408.8 223.3,406.6 228.0,414.9 232.7,412.0 237.4,422.2 242.2,422.9 246.9,425.5 251.6,402.6 256.3,412.4 261.1,420.4 265.8,414.0 270.5,411.5 275.2,403.8 280.0,414.3 284.7,401.5 289.4,387.1 294.2,381.8 298.9,393.6 303.6,383.6 308.3,380.6 313.1,386.2 317.8,388.8 322.5,386.6 327.2,373.5 332.0,372.0 336.7,365.9 341.4,381.5 346.1,388.8 350.9,376.8 355.6,367.2 360.3,373.0 365.0,416.3 369.8,421.4 374.5,431.9 379.2,421.0 383.9,437.3 388.7,425.8 393.4,416.9 398.1,422.0 402.8,415.4 407.6,416.2 412.3,418.3 417.0,419.9 421.8,422.8" fill="none" stroke="#7373FF" stroke-width="2.45" stroke-linejoin="round" stroke-linecap="round"/>
<circle cx="48.4" cy="419.4" r="2.15" fill="#0000FF"/>
<circle cx="53.1" cy="426.0" r="2.15" fill="#0000FF"/>
<circle cx="57.9" cy="399.6" r="2.15" fill="#0000FF"/>
<circle cx="62.6" cy="411.5" r="2.15" fill="#0000FF"/>
<circle cx="67.3" cy="396.7" r="2.15" fill="#0000FF"/>
<circle cx="72.0" cy="420.0" r="2.15" fill="#0000FF"/>
<circle cx="76.8" cy="401.3" r="2.15" fill="#0000FF"/>
<circle cx="81.5" cy="419.1" r="2.15" fill="#0000FF"/>
<circle cx="86.2" cy="399.3" r="2.15" fill="#0000FF"/>
<circle cx="90.9" cy="405.2" r="2.15" fill="#0000FF"/>
<circle cx="95.7" cy="374.3" r="2.15" fill="#0000FF"/>
<circle cx="100.4" cy="388.8" r="2.15" fill="#0000FF"/>
<circle cx="105.1" cy="409.5" r="2.15" fill="#0000FF"/>
<circle cx="109.8" cy="401.4" r="2.15" fill="#0000FF"/>
<circle cx="114.6" cy="410.5" r="2.15" fill="#0000FF"/>
<circle cx="119.3" cy="379.0" r="2.15" fill="#0000FF"/>
<circle cx="124.0" cy="389.9" r="2.15" fill="#0000FF"/>
<circle cx="128.7" cy="385.1" r="2.15" fill="#0000FF"/>
<circle cx="133.5" cy="406.7" r="2.15" fill="#0000FF"/>
<circle cx="138.2" cy="389.5" r="2.15" fill="#0000FF"/>
<circle cx="142.9" cy="401.9" r="2.15" fill="#0000FF"/>
<circle cx="147.6" cy="404.8" r="2.15" fill="#0000FF"/>
<circle cx="152.4" cy="404.8" r="2.15" fill="#0000FF"/>
<circle cx="157.1" cy="389.5" r="2.15" fill="#0000FF"/>
<circle cx="161.8" cy="403.9" r="2.15" fill="#0000FF"/>
<circle cx="166.6" cy="387.9" r="2.15" fill="#0000FF"/>
<circle cx="171.3" cy="393.7" r="2.15" fill="#0000FF"/>
<circle cx="176.0" cy="410.8" r="2.15" fill="#0000FF"/>
<circle cx="180.7" cy="403.2" r="2.15" fill="#0000FF"/>
<circle cx="185.5" cy="407.0" r="2.15" fill="#0000FF"/>
<circle cx="190.2" cy="413.6" r="2.15" fill="#0000FF"/>
<circle cx="194.9" cy="410.8" r="2.15" fill="#0000FF"/>
<circle cx="199.6" cy="419.7" r="2.15" fill="#0000FF"/>
<circle cx="204.4" cy="427.2" r="2.15" fill="#0000FF"/>
<circle cx="209.1" cy="429.0" r="2.15" fill="#0000FF"/>
<circle cx="213.8" cy="402.8" r="2.15" fill="#0000FF"/>
<circle cx="218.5" cy="408.8" r="2.15" fill="#0000FF"/>
<circle cx="223.3" cy="406.6" r="2.15" fill="#0000FF"/>
<circle cx="228.0" cy="414.9" r="2.15" fill="#0000FF"/>
<circle cx="232.7" cy="412.0" r="2.15" fill="#0000FF"/>
<circle cx="237.4" cy="422.2" r="2.15" fill="#0000FF"/>
<circle cx="242.2" cy="422.9" r="2.15" fill="#0000FF"/>
<circle cx="246.9" cy="425.5" r="2.15" fill="#0000FF"/>
<circle cx="251.6" cy="402.6" r="2.15" fill="#0000FF"/>
<circle cx="256.3" cy="412.4" r="2.15" fill="#0000FF"/>
<circle cx="261.1" cy="420.4" r="2.15" fill="#0000FF"/>
<circle cx="265.8" cy="414.0" r="2.15" fill="#0000FF"/>
<circle cx="270.5" cy="411.5" r="2.15" fill="#0000FF"/>
<circle cx="275.2" cy="403.8" r="2.15" fill="#0000FF"/>
<circle cx="280.0" cy="414.3" r="2.15" fill="#0000FF"/>
<circle cx="284.7" cy="401.5" r="2.15" fill="#0000FF"/>
<circle cx="289.4" cy="387.1" r="2.15" fill="#0000FF"/>
<circle cx="294.2" cy="381.8" r="2.15" fill="#0000FF"/>
<circle cx="298.9" cy="393.6" r="2.15" fill="#0000FF"/>
<circle cx="303.6" cy="383.6" r="2.15" fill="#0000FF"/>
<circle cx="308.3" cy="380.6" r="2.15" fill="#0000FF"/>
<circle cx="313.1" cy="386.2" r="2.15" fill="#0000FF"/>
<circle cx="317.8" cy="388.8" r="2.15" fill="#0000FF"/>
<circle cx="322.5" cy="386.6" r="2.15" fill="#0000FF"/>
<circle cx="327.2" cy="373.5" r="2.15" fill="#0000FF"/>
<circle cx="332.0" cy="372.0" r="2.15" fill="#0000FF"/>
<circle cx="336.7" cy="365.9" r="2.15" fill="#0000FF"/>
<circle cx="341.4" cy="381.5" r="2.15" fill="#0000FF"/>
<circle cx="346.1" cy="388.8" r="2.15" fill="#0000FF"/>
<circle cx="350.9" cy="376.8" r="2.15" fill="#0000FF"/>
<circle cx="355.6" cy="367.2" r="2.15" fill="#0000FF"/>
<circle cx="360.3" cy="373.0" r="2.15" fill="#0000FF"/>
<circle cx="365.0" cy="416.3" r="2.15" fill="#0000FF"/>
<circle cx="369.8" cy="421.4" r="2.15" fill="#0000FF"/>
<circle cx="374.5" cy="431.9" r="2.15" fill="#0000FF"/>
<circle cx="379.2" cy="421.0" r="2.15" fill="#0000FF"/>
<circle cx="383.9" cy="437.3" r="2.15" fill="#0000FF"/>
<circle cx="388.7" cy="425.8" r="2.15" fill="#0000FF"/>
<circle cx="393.4" cy="416.9" r="2.15" fill="#0000FF"/>
<circle cx="398.1" cy="422.0" r="2.15" fill="#0000FF"/>
<circle cx="402.8" cy="415.4" r="2.15" fill="#0000FF"/>
<circle cx="407.6" cy="416.2" r="2.15" fill="#0000FF"/>
<circle cx="412.3" cy="418.3" r="2.15" fill="#0000FF"/>
<circle cx="417.0" cy="419.9" r="2.15" fill="#0000FF"/>
<circle cx="421.8" cy="422.8" r="2.15" fill="#0000FF"/>
<line x1="27.5" y1="533.5" x2="45.5" y2="533.5" stroke="#9DB6E2" stroke-width="2.9" stroke-linecap="round"/>
<rect x="34.52" y="531.52" width="3.96" height="3.96" fill="#2E6CC4"/>
<text x="46.6" y="533.5" dominant-baseline="central" font-family="Liberation Serif, serif" font-size="9.75" fill="#111" stroke="#111" stroke-width="0.18">Coated Paper</text>
<line x1="102" y1="533.5" x2="119.5" y2="533.5" stroke="#FF6EFF" stroke-width="2.9" stroke-linecap="round"/>
<path d="M110.8 531.0L113.3 533.5L110.8 536.0L108.2 533.5Z" fill="#FF00FF"/>
<text x="120.6" y="533.5" dominant-baseline="central" font-family="Liberation Serif, serif" font-size="9.75" fill="#111" stroke="#111" stroke-width="0.18">Canvas paper</text>
<line x1="176.5" y1="533.5" x2="195" y2="533.5" stroke="#8A8A8A" stroke-width="2.9" stroke-linecap="round"/>
<circle cx="185.8" cy="533.5" r="2.15" fill="#000000"/>
<text x="196.1" y="533.5" dominant-baseline="central" font-family="Liberation Serif, serif" font-size="9.75" fill="#111" stroke="#111" stroke-width="0.18">IronPlate</text>
<line x1="235" y1="533.5" x2="252.5" y2="533.5" stroke="#62C99A" stroke-width="2.9" stroke-linecap="round"/>
<path d="M243.8 530.9L246.3 535.5L241.2 535.5Z" fill="#00C800"/>
<text x="253.6" y="533.5" dominant-baseline="central" font-family="Liberation Serif, serif" font-size="9.75" fill="#111" stroke="#111" stroke-width="0.18">MDF</text>
<line x1="279" y1="533.5" x2="296.5" y2="533.5" stroke="#E06C6C" stroke-width="2.9" stroke-linecap="round"/>
<rect x="285.77" y="531.52" width="3.96" height="3.96" fill="#FF0000"/>
<text x="297.6" y="533.5" dominant-baseline="central" font-family="Liberation Serif, serif" font-size="9.75" fill="#111" stroke="#111" stroke-width="0.18">Acrylic</text>
<line x1="330.5" y1="533.5" x2="348.5" y2="533.5" stroke="#7373FF" stroke-width="2.9" stroke-linecap="round"/>
<circle cx="339.5" cy="533.5" r="2.37" fill="#0000FF"/>
<text x="349.6" y="533.5" dominant-baseline="central" font-family="Liberation Serif, serif" font-size="9.75" fill="#111" stroke="#111" stroke-width="0.18">Styrofoamboard</text>
</svg></body></html>
